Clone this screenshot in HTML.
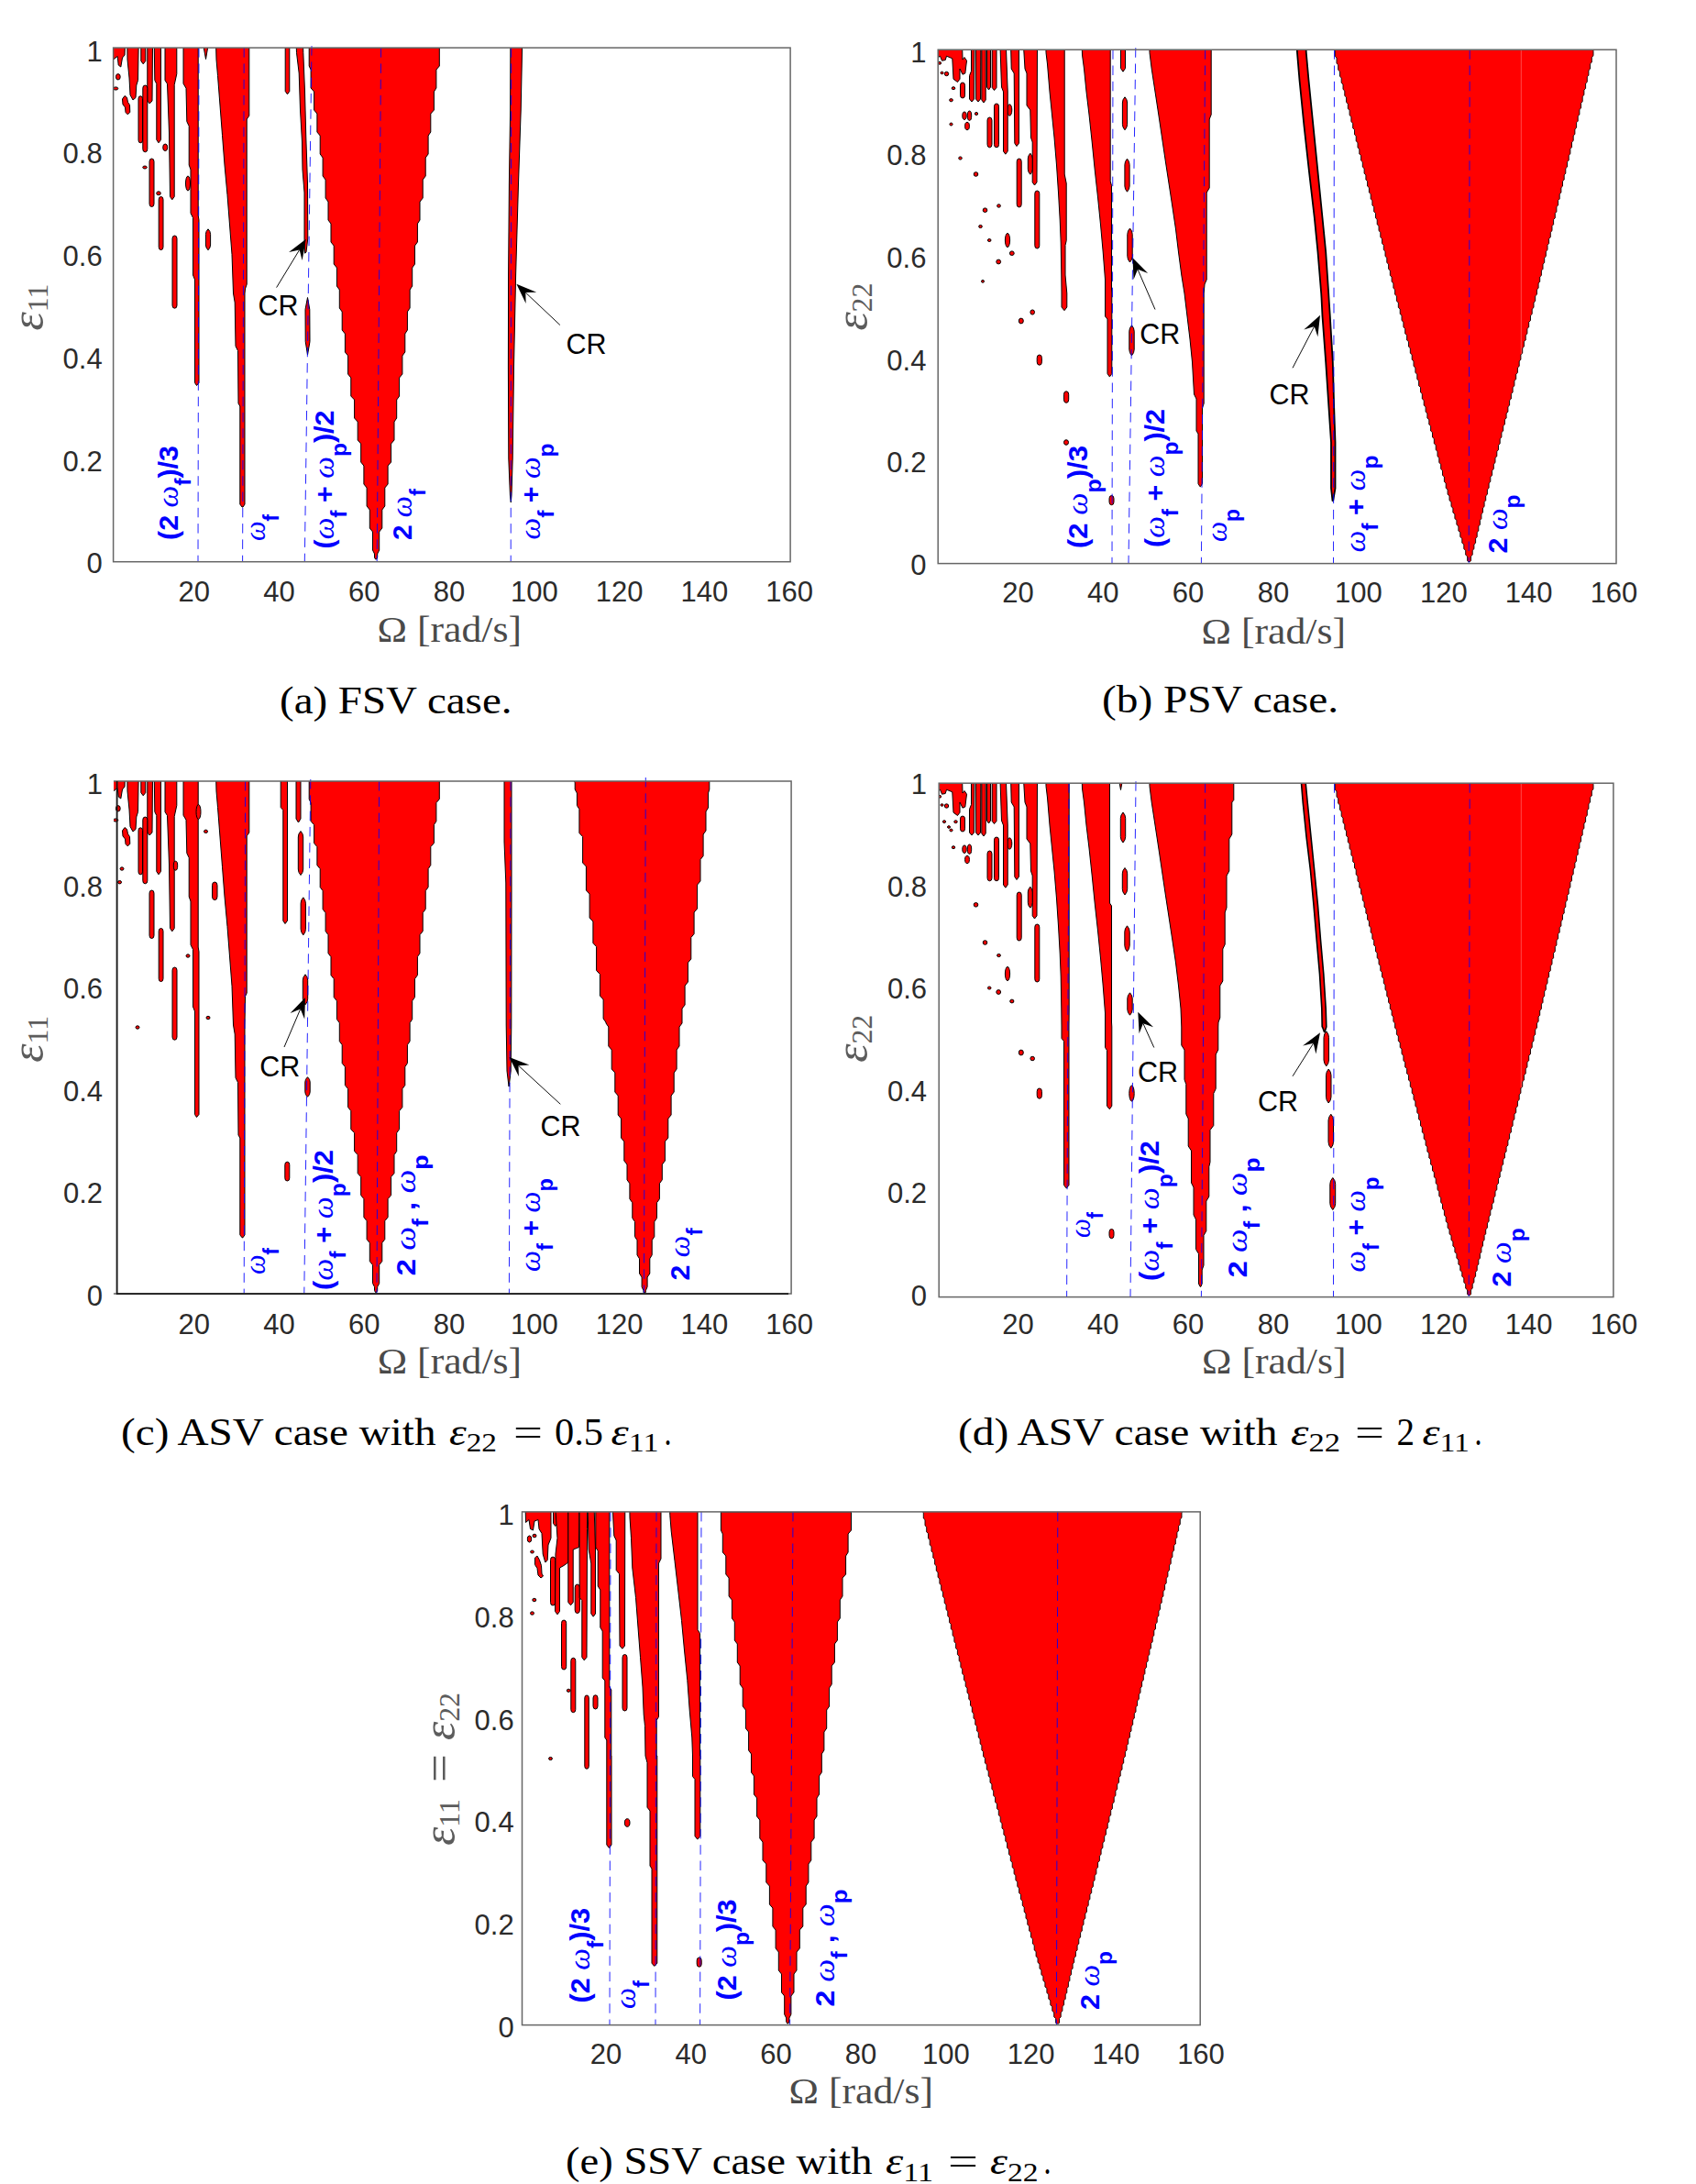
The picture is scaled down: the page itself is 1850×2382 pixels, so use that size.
<!DOCTYPE html>
<html><head><meta charset="utf-8"><title>Stability charts</title>
<style>html,body{margin:0;padding:0;background:#fff}body{width:1850px;height:2382px;position:relative;overflow:hidden}</style>
</head><body>
<svg width="1850" height="2382" viewBox="0 0 1850 2382" style="position:absolute;left:0;top:0">
<clipPath id="clip_a"><rect x="123.6" y="52.1" width="738.5" height="560.6"/></clipPath>
<g clip-path="url(#clip_a)" fill="#ff0000" stroke="#000" stroke-linejoin="round">
<path d="M123 45 L123 65.5 L126 63 L128.2 61.5 L129.2 71 L131.8 73 L133.5 63 L136 60 L136.5 45Z" stroke-width="1.00" stroke="#000"/>
<ellipse cx="128.8" cy="83.8" rx="2.4" ry="3.2" stroke-width="1"/>
<ellipse cx="126.2" cy="96.5" rx="2.6" ry="1.6" stroke-width="1"/>
<path d="M133.5 108 L136 104.5 L138.5 106.5 L139.5 111.5 L141.5 114.5 L141.8 122.5 L139.2 124.8 L137 122.5 L136.5 117 L134 114Z" stroke-width="1.00" stroke="#000"/>
<path d="M138.8 45 L139 65 L141 85 L142 103.5 L145 109 L148 106.5 L148.8 93 L150.5 87.5 L151.2 45Z" stroke-width="1.00" stroke="#000"/>
<path d="M153.8 45 L153.8 66.5 L156.2 69.8 L158.8 66.5 L158.8 45Z" stroke-width="1.00" stroke="#000"/>
<path d="M160.8 45 L160.8 110 L163.2 113 L166 110 L166.5 45Z" stroke-width="1.00" stroke="#000"/>
<rect x="155.8" y="93" width="5" height="72.8" rx="2.5" ry="3.2" stroke-width="1"/>
<rect x="151" y="104.8" width="4.5" height="51" rx="2.2" ry="2.9" stroke-width="1"/>
<path d="M168.2 45 L168.8 87.5 L170.8 91.5 L170.8 152.5 L173 155.8 L175.5 152.5 L175.5 45Z" stroke-width="1.00" stroke="#000"/>
<path d="M180 45 L180 87.5 L182.5 91.5 L184.5 145 L185.5 214.5 L187.8 217.8 L190.2 214.5 L190.2 92.5 L192.8 80.5 L192.8 45Z" stroke-width="1.00" stroke="#000"/>
<ellipse cx="180.2" cy="160.8" rx="2.5" ry="3.8" stroke-width="1"/>
<rect x="163" y="173" width="5" height="52.5" rx="2.5" ry="3.2" stroke-width="1"/>
<ellipse cx="158" cy="182.5" rx="2.3" ry="1.5" stroke-width="1"/>
<ellipse cx="173" cy="210.8" rx="2.3" ry="2" stroke-width="1"/>
<rect x="173.2" y="214.5" width="4.8" height="58" rx="2.4" ry="3.1" stroke-width="1"/>
<rect x="188" y="257" width="5" height="79.2" rx="2.5" ry="3.2" stroke-width="1"/>
<path d="M200 45 L200 91.2 L203 96.2 L203.8 132.5 L206.2 137.5 L206.2 180 L208 185 L208 232.5 L210.5 237.5 L210.5 300 L212.5 305 L212.5 417.5 L214.5 420.5 L217 417.5 L217 240 L216.2 235 L216.2 45Z" stroke-width="1.00" stroke="#000"/>
<ellipse cx="205" cy="200" rx="2.5" ry="8" stroke-width="1"/>
<path d="M221 45 L224.5 64.5 L227.8 45Z" stroke-width="1.00" stroke="#000"/>
<path d="M227 249.8 Q229.6 252.3 229.6 255.5 V267 Q229.6 270.2 227 272.8 Q224.4 270.2 224.4 267 V255.5 Q224.4 252.3 227 249.8Z" stroke-width="1"/>
<path d="M235.5 45 L236 65 L237.5 82.5 L240 115 L242.5 147.5 L245 180 L248 212.5 L250.5 245 L253 277.5 L254.5 320 L256.2 330 L257 377.5 L259.5 382.5 L260 440 L261.8 443 L261.8 550 L264 553 L265 553 L267 550 L267 320 L267.5 315 L269.2 310 L269.2 130 L271.8 126.2 L271.8 45Z" stroke-width="1.00" stroke="#000"/>
<path d="M311.2 45 L311.2 99.5 L313.5 102.8 L315.8 99.5 L315.8 45Z" stroke-width="1.00" stroke="#000"/>
<path d="M323 45 L323.5 57.5 L326.2 80 L327.5 120 L329.5 155 L330 185 L332 210 L332 260 L332.5 276.2 L334 275 L335.8 260 L335.5 200 L333.8 150 L332.5 100 L330.8 57.5 L330.5 45Z" stroke-width="1.00" stroke="#000"/>
<path d="M335.5 324.5 L337.8 337.5 L338 372.5 L335.5 387 L333.2 372.5 L333 337.5Z" stroke-width="1.00" stroke="#000"/>
<path d="M337.2 52 L337.2 72 L339.1 76 L339.1 96 L342.6 100 L342.6 120 L345.9 124 L345.9 144 L349.2 148 L349.2 168 L352.1 172 L352.1 192 L355.1 196 L355.1 216 L358 220 L358 240 L361 244 L361 264 L364.2 268 L364.2 288 L367.4 292 L367.4 312 L370.3 316 L370.3 336 L373.2 340 L373.2 360 L376.4 364 L376.4 384 L379.6 388 L379.6 408 L382.8 412 L382.8 432 L386.6 436 L386.6 456 L390.2 460 L390.2 480 L393.7 484 L393.7 504 L396.9 508 L396.9 528 L400.1 532 L400.1 552 L403.3 556 L403.3 576 L406.5 580 L406.5 600 L408.5 604 L408.5 608 L409.6 610 L410.6 610 L411.7 608 L411.7 604 L413.7 600 L413.7 580 L416.8 576 L416.8 556 L419.8 552 L419.8 532 L423.1 528 L423.1 508 L426.6 504 L426.6 484 L430 480 L430 460 L432.7 456 L432.7 436 L435.6 432 L435.6 412 L438.9 408 L438.9 388 L441.8 384 L441.8 364 L444.4 360 L444.4 340 L447.1 336 L447.1 316 L449.7 312 L449.7 292 L452.5 288 L452.5 268 L455.4 264 L455.4 244 L458 240 L458 220 L461.2 216 L461.2 196 L464.2 192 L464.2 172 L467.1 168 L467.1 148 L469.8 144 L469.8 124 L473.4 120 L473.4 100 L475.9 96 L475.9 76 L479.3 72 L479.3 52Z" stroke-width="1.00" stroke="#000"/>
<path d="M556.9 40 L556.6 120 L555.4 200 L554.6 300 L554.4 400 L554.8 500 L556.4 540 L557.3 548 L557.3 548 L558 540 L559.2 500 L560.5 400 L562.6 300 L565.5 200 L568.2 120 L569.8 40Z" stroke-width="1.00" stroke="#000"/>
</g>
<line x1="217" y1="52.1" x2="216" y2="612.7" stroke="#0000ff" stroke-width="1" stroke-dasharray="10.5 6.8" opacity="0.85"/>
<line x1="266.2" y1="52.1" x2="264.6" y2="612.7" stroke="#0000ff" stroke-width="1" stroke-dasharray="10.5 6.8" opacity="0.85"/>
<line x1="340" y1="50.1" x2="332.3" y2="612.7" stroke="#0000ff" stroke-width="1" stroke-dasharray="10.5 6.8" opacity="0.85"/>
<line x1="415.6" y1="52.1" x2="411.2" y2="612.7" stroke="#0000ff" stroke-width="1" stroke-dasharray="10.5 6.8" opacity="0.85"/>
<line x1="557.6" y1="52.1" x2="557.2" y2="612.7" stroke="#0000ff" stroke-width="1" stroke-dasharray="10.5 6.8" opacity="0.85"/>
<rect x="123.6" y="52.1" width="738.5" height="560.6" fill="none" stroke="#666" stroke-width="1.5"/>
<text x="211.8" y="656.1" font-family="'Liberation Sans', sans-serif" font-size="31" fill="#2b2b2b" text-anchor="middle">20</text><text x="304.6" y="656.1" font-family="'Liberation Sans', sans-serif" font-size="31" fill="#2b2b2b" text-anchor="middle">40</text><text x="397.3" y="656.1" font-family="'Liberation Sans', sans-serif" font-size="31" fill="#2b2b2b" text-anchor="middle">60</text><text x="490.1" y="656.1" font-family="'Liberation Sans', sans-serif" font-size="31" fill="#2b2b2b" text-anchor="middle">80</text><text x="582.9" y="656.1" font-family="'Liberation Sans', sans-serif" font-size="31" fill="#2b2b2b" text-anchor="middle">100</text><text x="675.7" y="656.1" font-family="'Liberation Sans', sans-serif" font-size="31" fill="#2b2b2b" text-anchor="middle">120</text><text x="768.4" y="656.1" font-family="'Liberation Sans', sans-serif" font-size="31" fill="#2b2b2b" text-anchor="middle">140</text><text x="861.2" y="656.1" font-family="'Liberation Sans', sans-serif" font-size="31" fill="#2b2b2b" text-anchor="middle">160</text>
<text x="111.7" y="66.6" font-family="'Liberation Sans', sans-serif" font-size="31" fill="#2b2b2b" text-anchor="end">1</text><text x="111.7" y="178.4" font-family="'Liberation Sans', sans-serif" font-size="31" fill="#2b2b2b" text-anchor="end">0.8</text><text x="111.7" y="290.1" font-family="'Liberation Sans', sans-serif" font-size="31" fill="#2b2b2b" text-anchor="end">0.6</text><text x="111.7" y="401.9" font-family="'Liberation Sans', sans-serif" font-size="31" fill="#2b2b2b" text-anchor="end">0.4</text><text x="111.7" y="513.6" font-family="'Liberation Sans', sans-serif" font-size="31" fill="#2b2b2b" text-anchor="end">0.2</text><text x="111.7" y="625.4" font-family="'Liberation Sans', sans-serif" font-size="31" fill="#2b2b2b" text-anchor="end">0</text>
<text x="411.5" y="700" font-family="'Liberation Serif', serif" font-size="39.5" fill="#4a4a4a" textLength="157.5" lengthAdjust="spacingAndGlyphs">&#937; [rad/s]</text>
<text x="46.9" y="360.6" font-family="'Liberation Serif', serif" font-size="39.5" fill="#5c5c5c" textLength="51" lengthAdjust="spacingAndGlyphs" transform="rotate(-90 46.9 360.6)"><tspan font-style="italic" font-size="50">&#949;</tspan><tspan font-size="31" dy="5.3">11</tspan><tspan dy="-5.3" font-size="1">&#8203;</tspan></text>
<text x="305" y="777.5" font-family="'Liberation Serif', serif" font-size="43" fill="#000" textLength="253.5" lengthAdjust="spacingAndGlyphs">(a) FSV case.</text>
<text x="193.6" y="589" font-family="'Liberation Sans', sans-serif" font-size="29" fill="#0000ff" textLength="103" lengthAdjust="spacingAndGlyphs" transform="rotate(-90 193.6 589)"><tspan font-weight="bold">(2 </tspan><tspan font-family="'Liberation Serif', serif" font-style="italic" font-size="31.9">&#969;</tspan><tspan font-weight="bold" font-size="23.2" dy="14.5">f</tspan><tspan dy="-14.5" font-size="1">&#8203;</tspan><tspan font-weight="bold">)/3</tspan></text>
<text x="289.3" y="590" font-family="'Liberation Sans', sans-serif" font-size="29" fill="#0000ff" textLength="29" lengthAdjust="spacingAndGlyphs" transform="rotate(-90 289.3 590)"><tspan font-family="'Liberation Serif', serif" font-style="italic" font-size="31.9">&#969;</tspan><tspan font-weight="bold" font-size="23.2" dy="14.5">f</tspan><tspan dy="-14.5" font-size="1">&#8203;</tspan></text>
<text x="363.6" y="598.5" font-family="'Liberation Sans', sans-serif" font-size="29" fill="#0000ff" textLength="151" lengthAdjust="spacingAndGlyphs" transform="rotate(-90 363.6 598.5)"><tspan font-weight="bold">(</tspan><tspan font-family="'Liberation Serif', serif" font-style="italic" font-size="31.9">&#969;</tspan><tspan font-weight="bold" font-size="23.2" dy="14.5">f</tspan><tspan dy="-14.5" font-size="1">&#8203;</tspan><tspan font-weight="bold"> + </tspan><tspan font-family="'Liberation Serif', serif" font-style="italic" font-size="31.9">&#969;</tspan><tspan font-weight="bold" font-size="23.2" dy="14.5">p</tspan><tspan dy="-14.5" font-size="1">&#8203;</tspan><tspan font-weight="bold">)/2</tspan></text>
<text x="449.2" y="589" font-family="'Liberation Sans', sans-serif" font-size="29" fill="#0000ff" textLength="56" lengthAdjust="spacingAndGlyphs" transform="rotate(-90 449.2 589)"><tspan font-weight="bold">2 </tspan><tspan font-family="'Liberation Serif', serif" font-style="italic" font-size="31.9">&#969;</tspan><tspan font-weight="bold" font-size="23.2" dy="14.5">f</tspan><tspan dy="-14.5" font-size="1">&#8203;</tspan></text>
<text x="589.1" y="588.5" font-family="'Liberation Sans', sans-serif" font-size="29" fill="#0000ff" textLength="105" lengthAdjust="spacingAndGlyphs" transform="rotate(-90 589.1 588.5)"><tspan font-family="'Liberation Serif', serif" font-style="italic" font-size="31.9">&#969;</tspan><tspan font-weight="bold" font-size="23.2" dy="14.5">f</tspan><tspan dy="-14.5" font-size="1">&#8203;</tspan><tspan font-weight="bold"> + </tspan><tspan font-family="'Liberation Serif', serif" font-style="italic" font-size="31.9">&#969;</tspan><tspan font-weight="bold" font-size="23.2" dy="14.5">p</tspan><tspan dy="-14.5" font-size="1">&#8203;</tspan></text>
<text x="281.5" y="343.6" font-family="'Liberation Sans', sans-serif" font-size="30.5" fill="#000" textLength="44" lengthAdjust="spacingAndGlyphs">CR</text>
<line x1="301.6" y1="313.6" x2="326.7" y2="272.4" stroke="#000" stroke-width="0.95"/><path d="M333.8 260.7 L329.6 283.9 L326.7 272.4 L315.1 275.1Z" fill="#000"/>
<text x="617.5" y="386" font-family="'Liberation Sans', sans-serif" font-size="30.5" fill="#000" textLength="44" lengthAdjust="spacingAndGlyphs">CR</text>
<line x1="610.9" y1="354.5" x2="573.3" y2="319.1" stroke="#000" stroke-width="0.95"/><path d="M563.4 309.8 L585.2 318.7 L573.3 319.1 L573.6 331.1Z" fill="#000"/>
<clipPath id="clip_b"><rect x="1023.2" y="54.2" width="739.8" height="560.4"/></clipPath>
<g clip-path="url(#clip_b)" fill="#ff0000" stroke="#000" stroke-linejoin="round">
<path d="M1023 45 L1023.5 62.5 L1025.5 61.2 L1027.5 66.2 L1031.2 65.5 L1032.5 61.2 L1038.8 63.8 L1040 86.2 L1044.5 89.5 L1047 86.2 L1047 75 L1050 81.2 L1052.8 80 L1054.5 66.2 L1052 62.5 L1050 65 L1049.5 45Z" stroke-width="1.00" stroke="#000"/>
<ellipse cx="1025" cy="68.8" rx="1.6" ry="1.4" stroke-width="1"/>
<ellipse cx="1027.5" cy="79.5" rx="1.5" ry="1.3" stroke-width="1"/>
<ellipse cx="1032.5" cy="80.5" rx="2.2" ry="2.2" stroke-width="1"/>
<ellipse cx="1040" cy="96.2" rx="1.8" ry="1.5" stroke-width="1"/>
<ellipse cx="1037.5" cy="109.2" rx="1.8" ry="1.6" stroke-width="1"/>
<ellipse cx="1037.5" cy="135.5" rx="1.6" ry="1.5" stroke-width="1"/>
<ellipse cx="1047.5" cy="172.5" rx="1.8" ry="1.6" stroke-width="1"/>
<ellipse cx="1064.5" cy="190" rx="2.3" ry="2.3" stroke-width="1"/>
<ellipse cx="1074.5" cy="229.2" rx="2.3" ry="2.3" stroke-width="1"/>
<ellipse cx="1089.5" cy="224.5" rx="1.9" ry="1.7" stroke-width="1"/>
<ellipse cx="1069.5" cy="247" rx="1.8" ry="1.6" stroke-width="1"/>
<ellipse cx="1079.2" cy="262" rx="1.8" ry="1.5" stroke-width="1"/>
<ellipse cx="1103.8" cy="276.2" rx="2.4" ry="2.3" stroke-width="1"/>
<ellipse cx="1089.2" cy="285.5" rx="2.4" ry="2.4" stroke-width="1"/>
<ellipse cx="1072" cy="306.8" rx="1.5" ry="1.4" stroke-width="1"/>
<ellipse cx="1065" cy="124" rx="1.7" ry="1.5" stroke-width="1"/>
<ellipse cx="1052" cy="126.2" rx="2.2" ry="4.2" stroke-width="1"/>
<ellipse cx="1057.5" cy="126.2" rx="2.2" ry="5.2" stroke-width="1"/>
<ellipse cx="1055" cy="137.5" rx="2.4" ry="4.2" stroke-width="1"/>
<rect x="1047.5" y="90" width="5" height="17" rx="2.5" ry="3.2" stroke-width="1"/>
<path d="M1059.5 45 L1059.5 77.5 L1057.5 82.5 L1057.5 108 L1060 111 L1062.5 108 L1063 45Z" stroke-width="1.00" stroke="#000"/>
<path d="M1064.5 45 L1064.5 108 L1067 111 L1069.5 108 L1070 45Z" stroke-width="1.00" stroke="#000"/>
<path d="M1070.8 45 L1070.8 109 L1073 112 L1075.2 109 L1075.2 45Z" stroke-width="1.00" stroke="#000"/>
<path d="M1076.5 45 L1076.5 95 L1078.5 98 L1080.5 95 L1080.5 45Z" stroke-width="1.00" stroke="#000"/>
<path d="M1082.2 45 L1082.2 95.5 L1084.5 98.5 L1087 95.5 L1087 45Z" stroke-width="1.00" stroke="#000"/>
<rect x="1084.5" y="113" width="5" height="47.8" rx="2.5" ry="3.2" stroke-width="1"/>
<rect x="1077" y="128" width="5" height="32.8" rx="2.5" ry="3.2" stroke-width="1"/>
<ellipse cx="1101.2" cy="120" rx="2.6" ry="6.2" stroke-width="1"/>
<path d="M1090.8 45 L1092.5 95 L1094.5 100 L1094.5 165 L1096.8 168.2 L1099.2 165 L1099.2 100 L1097.2 45Z" stroke-width="1.00" stroke="#000"/>
<path d="M1102.5 45 L1103.2 75 L1106.2 80 L1106.8 156.2 L1109 159.5 L1111.5 156.2 L1111.5 45Z" stroke-width="1.00" stroke="#000"/>
<path d="M1116.2 45 L1118 75 L1120 80 L1120 115 L1123.8 120 L1124.5 150 L1126.2 155 L1126.2 198.8 L1128.5 202 L1131 198.8 L1131.5 45Z" stroke-width="1.00" stroke="#000"/>
<path d="M1123.8 167.2 Q1126.2 169.8 1126.2 173 V184.5 Q1126.2 187.7 1123.8 190.2 Q1121.3 187.7 1121.3 184.5 V173 Q1121.3 169.8 1123.8 167.2Z" stroke-width="1"/>
<rect x="1109.2" y="173" width="5" height="53" rx="2.5" ry="3.2" stroke-width="1"/>
<rect x="1128.8" y="208" width="5" height="63" rx="2.5" ry="3.2" stroke-width="1"/>
<ellipse cx="1099" cy="262" rx="2.6" ry="7.6" stroke-width="1"/>
<ellipse cx="1126.2" cy="340.5" rx="2.3" ry="2.6" stroke-width="1"/>
<ellipse cx="1113.8" cy="350" rx="2.5" ry="2.9" stroke-width="1"/>
<rect x="1131.2" y="387" width="5.2" height="11.2" rx="2.6" ry="3.4" stroke-width="1"/>
<rect x="1160.5" y="426.8" width="5.2" height="12.5" rx="2.6" ry="3.4" stroke-width="1"/>
<ellipse cx="1163" cy="482.5" rx="2.5" ry="2.8" stroke-width="1"/>
<rect x="1210" y="540.5" width="5" height="10.2" rx="2.5" ry="3.2" stroke-width="1"/>
<path d="M1140.8 45 L1141 57.5 L1142.5 70 L1145 100 L1147.5 125 L1150 150 L1152.5 180 L1154.5 210 L1156.2 240 L1157.2 265 L1157.8 300 L1158 320 L1158 335 L1160.8 338.5 L1161.2 338.5 L1163.8 335 L1163.8 320 L1162 300 L1162 267.5 L1163.2 262.5 L1163.2 200 L1161.2 190 L1161.2 45Z" stroke-width="1.00" stroke="#000"/>
<path d="M1180 45 L1180.5 60 L1182.5 75 L1185 100 L1188 125 L1191.2 155 L1194.2 185 L1197.5 215 L1200.5 245 L1203.2 275 L1205.5 305 L1205.5 320 L1205.5 345 L1208 348 L1208 407.5 L1210.2 410.8 L1210.5 410.8 L1212.8 407.5 L1212.8 320 L1212.5 315 L1212.5 202.5 L1211.2 197.5 L1211.2 45Z" stroke-width="1.00" stroke="#000"/>
<path d="M1222.5 45 L1222.5 74.5 L1225 78.2 L1227.5 74.5 L1227.5 45Z" stroke-width="1.00" stroke="#000"/>
<path d="M1227 105.8 Q1229.6 108.6 1229.6 112 V135.5 Q1229.6 138.9 1227 141.8 Q1224.4 138.9 1224.4 135.5 V112 Q1224.4 108.6 1227 105.8Z" stroke-width="1"/>
<path d="M1229.5 173.2 Q1232.1 176.1 1232.1 179.5 V203 Q1232.1 206.4 1229.5 209.2 Q1226.9 206.4 1226.9 203 V179.5 Q1226.9 176.1 1229.5 173.2Z" stroke-width="1"/>
<path d="M1232.5 249 Q1235.2 251.9 1235.2 255.5 V279.5 Q1235.2 283.1 1232.5 286 Q1229.8 283.1 1229.8 279.5 V255.5 Q1229.8 251.9 1232.5 249Z" stroke-width="1"/>
<path d="M1234.5 354.8 Q1237.2 357.7 1237.2 361.2 V381.3 Q1237.2 384.8 1234.5 387.8 Q1231.8 384.8 1231.8 381.3 V361.2 Q1231.8 357.7 1234.5 354.8Z" stroke-width="1"/>
<path d="M1253.8 45 L1254 57.5 L1256.2 75 L1260 100 L1263.8 125 L1267.5 150 L1271.2 175 L1275 200 L1278.8 225 L1282.5 250 L1285.5 275 L1288.8 300 L1292 320 L1295 345 L1298 370 L1300.5 395 L1302.5 430 L1305 435 L1305 470 L1307 473 L1307 527.5 L1309 530.8 L1309.5 530.8 L1311.5 527.5 L1311.5 445 L1313.2 440 L1313.2 320 L1314 310 L1316.2 305 L1316.2 210 L1319.2 205 L1319.2 130 L1321.2 125 L1321.2 45Z" stroke-width="1.00" stroke="#000"/>
<path d="M1414.5 45 L1415 57.5 L1417.5 87.5 L1422.5 137.5 L1428 187.5 L1433.8 237.5 L1437.5 275 L1441.2 320 L1441.5 325 L1442.5 345 L1446.2 395 L1449.5 445 L1452 482.5 L1452 532.5 L1453.5 546.2 L1454.2 546.2 L1456.5 532.5 L1456.5 482.5 L1455.2 445 L1453.8 395 L1450.8 345 L1449.5 325 L1449.2 320 L1446.2 275 L1442.5 237.5 L1437.5 187.5 L1432.5 137.5 L1427.5 87.5 L1424.8 57.5 L1424.2 45Z" stroke-width="1.80" stroke="#000"/>
<path d="M1455 50.8 L1455 53.7 L1456.3 55.3 L1456.3 61.5 L1458 63 L1458 69.2 L1459.7 70.8 L1459.7 76.3 L1461.5 77.9 L1461.5 83.3 L1463.2 84.9 L1463.2 90.4 L1465 92 L1465 97.4 L1466.8 99 L1466.8 104.5 L1468.6 106.1 L1468.6 111.6 L1470.3 113.2 L1470.3 118.6 L1472.1 120.2 L1472.1 125.7 L1473.9 127.3 L1473.9 132.7 L1475.7 134.3 L1475.7 139.8 L1477.5 141.4 L1477.5 146.8 L1479.2 148.4 L1479.2 153.9 L1481 155.5 L1481 161 L1482.8 162.6 L1482.8 168 L1484.6 169.6 L1484.6 175.1 L1486.3 176.7 L1486.3 182.1 L1488.1 183.7 L1488.1 189.2 L1489.9 190.8 L1489.9 196.1 L1491.6 197.7 L1491.6 203.1 L1493.4 204.7 L1493.4 210 L1495.2 211.6 L1495.2 217 L1496.9 218.6 L1496.9 223.9 L1498.7 225.5 L1498.7 230.9 L1500.5 232.5 L1500.5 237.8 L1502.2 239.4 L1502.2 244.8 L1504 246.4 L1504 251.7 L1505.8 253.3 L1505.8 258.7 L1507.5 260.3 L1507.5 265.6 L1509.3 267.2 L1509.3 272.6 L1511 274.2 L1511 279.5 L1512.8 281.1 L1512.8 286.5 L1514.6 288.1 L1514.6 293.4 L1516.3 295 L1516.3 300.4 L1518.1 302 L1518.1 307.3 L1519.9 308.9 L1519.9 314.3 L1521.6 315.9 L1521.6 321.2 L1523.4 322.8 L1523.4 328.3 L1525.3 329.9 L1525.3 335.4 L1527.2 337 L1527.2 342.5 L1529 344.1 L1529 349.6 L1530.9 351.2 L1530.9 356.8 L1532.7 358.4 L1532.7 363.9 L1534.6 365.5 L1534.6 371 L1536.5 372.6 L1536.5 378.1 L1538.3 379.7 L1538.3 385.2 L1540.2 386.8 L1540.2 392.3 L1542 393.9 L1542 399.4 L1543.9 401 L1543.9 406.5 L1545.8 408.1 L1545.8 413.6 L1547.6 415.2 L1547.6 420.8 L1549.5 422.4 L1549.5 427.9 L1551.3 429.5 L1551.3 435 L1553.2 436.6 L1553.2 442.1 L1555.1 443.7 L1555.1 449.2 L1556.9 450.8 L1556.9 456.1 L1558.8 457.7 L1558.8 463 L1560.6 464.6 L1560.6 470 L1562.5 471.6 L1562.5 476.9 L1564.3 478.5 L1564.3 483.8 L1566.2 485.4 L1566.2 490.7 L1568 492.3 L1568 497.7 L1569.8 499.3 L1569.8 504.6 L1571.7 506.2 L1571.7 511.5 L1573.5 513.1 L1573.5 518.4 L1575.4 520 L1575.4 525.4 L1577.2 527 L1577.2 532.3 L1579.1 533.9 L1579.1 539.2 L1581 540.8 L1581 545.8 L1583 547.4 L1583 552.5 L1584.9 554 L1584.9 559.1 L1586.9 560.7 L1586.9 565.7 L1588.9 567.3 L1588.9 572.3 L1590.9 573.9 L1590.9 579 L1592.8 580.5 L1592.8 585.6 L1594.8 587.2 L1594.8 592.2 L1596.8 593.8 L1596.8 598.7 L1598.7 600.3 L1598.7 605.2 L1600.6 606.8 L1600.6 611.7 L1601.6 612.5 L1603.6 612.5 L1604.5 611.7 L1604.5 606.8 L1606.2 605.2 L1606.2 600.3 L1607.9 598.7 L1607.9 593.8 L1609.6 592.2 L1609.6 587.2 L1611.2 585.6 L1611.2 580.5 L1612.8 579 L1612.8 573.9 L1614.4 572.3 L1614.4 567.3 L1615.9 565.7 L1615.9 560.7 L1617.5 559.1 L1617.5 554 L1619.1 552.5 L1619.1 547.4 L1620.7 545.8 L1620.7 540.8 L1622.4 539.2 L1622.4 533.9 L1624.1 532.3 L1624.1 527 L1625.8 525.4 L1625.8 520 L1627.6 518.4 L1627.6 513.1 L1629.3 511.5 L1629.3 506.2 L1631 504.6 L1631 499.3 L1632.8 497.7 L1632.8 492.3 L1634.5 490.7 L1634.5 485.4 L1636.2 483.8 L1636.2 478.5 L1637.9 476.9 L1637.9 471.6 L1639.7 470 L1639.7 464.6 L1641.4 463 L1641.4 457.7 L1643.1 456.1 L1643.1 450.8 L1644.9 449.2 L1644.9 443.7 L1646.6 442.1 L1646.6 436.6 L1648.4 435 L1648.4 429.5 L1650.1 427.9 L1650.1 422.4 L1651.9 420.8 L1651.9 415.2 L1653.7 413.6 L1653.7 408.1 L1655.4 406.5 L1655.4 401 L1657.2 399.4 L1657.2 393.9 L1658.9 392.3 L1658.9 386.8 L1660.7 385.2 L1660.7 379.7 L1662.4 378.1 L1662.4 372.6 L1664.2 371 L1664.2 365.5 L1665.9 363.9 L1665.9 358.4 L1667.7 356.8 L1667.7 351.2 L1669.5 349.6 L1669.5 344.1 L1671.2 342.5 L1671.2 337 L1673 335.4 L1673 329.9 L1674.7 328.3 L1674.7 322.8 L1676.4 321.2 L1676.4 315.9 L1678.1 314.3 L1678.1 308.9 L1679.7 307.3 L1679.7 302 L1681.4 300.4 L1681.4 295 L1683 293.4 L1683 288.1 L1684.7 286.5 L1684.7 281.1 L1686.3 279.5 L1686.3 274.2 L1688 272.6 L1688 267.2 L1689.6 265.6 L1689.6 260.3 L1691.3 258.7 L1691.3 253.3 L1693 251.7 L1693 246.4 L1694.6 244.8 L1694.6 239.4 L1696.3 237.8 L1696.3 232.5 L1697.9 230.9 L1697.9 225.5 L1699.6 223.9 L1699.6 218.6 L1701.2 217 L1701.2 211.6 L1702.9 210 L1702.9 204.7 L1704.5 203.1 L1704.5 197.7 L1706.2 196.1 L1706.2 190.8 L1707.8 189.2 L1707.8 183.7 L1709.5 182.1 L1709.5 176.5 L1711.2 174.9 L1711.2 169.4 L1712.9 167.8 L1712.9 162.3 L1714.5 160.7 L1714.5 155.1 L1716.2 153.5 L1716.2 148 L1717.9 146.4 L1717.9 140.9 L1719.6 139.3 L1719.6 133.7 L1721.2 132.1 L1721.2 126.6 L1722.9 125 L1722.9 119.5 L1724.6 117.9 L1724.6 112.4 L1726.2 110.8 L1726.2 105.2 L1727.9 103.6 L1727.9 98.1 L1729.6 96.5 L1729.6 91 L1731.3 89.4 L1731.3 83.8 L1732.9 82.2 L1732.9 76.7 L1734.6 75.1 L1734.6 69.6 L1736.3 68 L1736.3 62.4 L1738 60.8 L1738 55.3 L1739 53.7 L1739 50.8Z" stroke-width="0.90" stroke="#000"/>
<line x1="1659.3" y1="50" x2="1659.3" y2="386" stroke="#ff6a6a" stroke-width="0.7"/>
</g>
<line x1="1214" y1="54.2" x2="1213" y2="614.6" stroke="#0000ff" stroke-width="1" stroke-dasharray="10.5 6.8" opacity="0.85"/>
<line x1="1238.8" y1="52.2" x2="1231" y2="614.6" stroke="#0000ff" stroke-width="1" stroke-dasharray="10.5 6.8" opacity="0.85"/>
<line x1="1314.6" y1="54.2" x2="1310.4" y2="614.6" stroke="#0000ff" stroke-width="1" stroke-dasharray="10.5 6.8" opacity="0.85"/>
<line x1="1455.5" y1="54.2" x2="1454.5" y2="614.6" stroke="#0000ff" stroke-width="1" stroke-dasharray="10.5 6.8" opacity="0.85"/>
<line x1="1603.2" y1="54.2" x2="1602.2" y2="614.6" stroke="#0000ff" stroke-width="1" stroke-dasharray="10.5 6.8" opacity="0.85"/>
<rect x="1023.2" y="54.2" width="739.8" height="560.4" fill="none" stroke="#666" stroke-width="1.5"/>
<text x="1110.4" y="656.7" font-family="'Liberation Sans', sans-serif" font-size="31" fill="#2b2b2b" text-anchor="middle">20</text><text x="1203.3" y="656.7" font-family="'Liberation Sans', sans-serif" font-size="31" fill="#2b2b2b" text-anchor="middle">40</text><text x="1296.1" y="656.7" font-family="'Liberation Sans', sans-serif" font-size="31" fill="#2b2b2b" text-anchor="middle">60</text><text x="1389" y="656.7" font-family="'Liberation Sans', sans-serif" font-size="31" fill="#2b2b2b" text-anchor="middle">80</text><text x="1481.9" y="656.7" font-family="'Liberation Sans', sans-serif" font-size="31" fill="#2b2b2b" text-anchor="middle">100</text><text x="1574.8" y="656.7" font-family="'Liberation Sans', sans-serif" font-size="31" fill="#2b2b2b" text-anchor="middle">120</text><text x="1667.6" y="656.7" font-family="'Liberation Sans', sans-serif" font-size="31" fill="#2b2b2b" text-anchor="middle">140</text><text x="1760.5" y="656.7" font-family="'Liberation Sans', sans-serif" font-size="31" fill="#2b2b2b" text-anchor="middle">160</text>
<text x="1010.4" y="68.2" font-family="'Liberation Sans', sans-serif" font-size="31" fill="#2b2b2b" text-anchor="end">1</text><text x="1010.4" y="180" font-family="'Liberation Sans', sans-serif" font-size="31" fill="#2b2b2b" text-anchor="end">0.8</text><text x="1010.4" y="291.8" font-family="'Liberation Sans', sans-serif" font-size="31" fill="#2b2b2b" text-anchor="end">0.6</text><text x="1010.4" y="403.6" font-family="'Liberation Sans', sans-serif" font-size="31" fill="#2b2b2b" text-anchor="end">0.4</text><text x="1010.4" y="515.4" font-family="'Liberation Sans', sans-serif" font-size="31" fill="#2b2b2b" text-anchor="end">0.2</text><text x="1010.4" y="627.2" font-family="'Liberation Sans', sans-serif" font-size="31" fill="#2b2b2b" text-anchor="end">0</text>
<text x="1310.5" y="702" font-family="'Liberation Serif', serif" font-size="39.5" fill="#4a4a4a" textLength="157.5" lengthAdjust="spacingAndGlyphs">&#937; [rad/s]</text>
<text x="945.6" y="360.6" font-family="'Liberation Serif', serif" font-size="39.5" fill="#5c5c5c" textLength="52" lengthAdjust="spacingAndGlyphs" transform="rotate(-90 945.6 360.6)"><tspan font-style="italic" font-size="50">&#949;</tspan><tspan font-size="31" dy="5.3">22</tspan><tspan dy="-5.3" font-size="1">&#8203;</tspan></text>
<text x="1202" y="777.3" font-family="'Liberation Serif', serif" font-size="43" fill="#000" textLength="258" lengthAdjust="spacingAndGlyphs">(b) PSV case.</text>
<text x="1186" y="598" font-family="'Liberation Sans', sans-serif" font-size="29" fill="#0000ff" textLength="112" lengthAdjust="spacingAndGlyphs" transform="rotate(-90 1186 598)"><tspan font-weight="bold">(2 </tspan><tspan font-family="'Liberation Serif', serif" font-style="italic" font-size="31.9">&#969;</tspan><tspan font-weight="bold" font-size="23.2" dy="14.5">p</tspan><tspan dy="-14.5" font-size="1">&#8203;</tspan><tspan font-weight="bold">)/3</tspan></text>
<text x="1270" y="597" font-family="'Liberation Sans', sans-serif" font-size="29" fill="#0000ff" textLength="151" lengthAdjust="spacingAndGlyphs" transform="rotate(-90 1270 597)"><tspan font-weight="bold">(</tspan><tspan font-family="'Liberation Serif', serif" font-style="italic" font-size="31.9">&#969;</tspan><tspan font-weight="bold" font-size="23.2" dy="14.5">f</tspan><tspan dy="-14.5" font-size="1">&#8203;</tspan><tspan font-weight="bold"> + </tspan><tspan font-family="'Liberation Serif', serif" font-style="italic" font-size="31.9">&#969;</tspan><tspan font-weight="bold" font-size="23.2" dy="14.5">p</tspan><tspan dy="-14.5" font-size="1">&#8203;</tspan><tspan font-weight="bold">)/2</tspan></text>
<text x="1337.5" y="591" font-family="'Liberation Sans', sans-serif" font-size="29" fill="#0000ff" textLength="36" lengthAdjust="spacingAndGlyphs" transform="rotate(-90 1337.5 591)"><tspan font-family="'Liberation Serif', serif" font-style="italic" font-size="31.9">&#969;</tspan><tspan font-weight="bold" font-size="23.2" dy="14.5">p</tspan><tspan dy="-14.5" font-size="1">&#8203;</tspan></text>
<text x="1488.9" y="602.5" font-family="'Liberation Sans', sans-serif" font-size="29" fill="#0000ff" textLength="106" lengthAdjust="spacingAndGlyphs" transform="rotate(-90 1488.9 602.5)"><tspan font-family="'Liberation Serif', serif" font-style="italic" font-size="31.9">&#969;</tspan><tspan font-weight="bold" font-size="23.2" dy="14.5">f</tspan><tspan dy="-14.5" font-size="1">&#8203;</tspan><tspan font-weight="bold"> + </tspan><tspan font-family="'Liberation Serif', serif" font-style="italic" font-size="31.9">&#969;</tspan><tspan font-weight="bold" font-size="23.2" dy="14.5">p</tspan><tspan dy="-14.5" font-size="1">&#8203;</tspan></text>
<text x="1643.5" y="603.5" font-family="'Liberation Sans', sans-serif" font-size="29" fill="#0000ff" textLength="64" lengthAdjust="spacingAndGlyphs" transform="rotate(-90 1643.5 603.5)"><tspan font-weight="bold">2 </tspan><tspan font-family="'Liberation Serif', serif" font-style="italic" font-size="31.9">&#969;</tspan><tspan font-weight="bold" font-size="23.2" dy="14.5">p</tspan><tspan dy="-14.5" font-size="1">&#8203;</tspan></text>
<text x="1243.3" y="374.5" font-family="'Liberation Sans', sans-serif" font-size="30.5" fill="#000" textLength="44" lengthAdjust="spacingAndGlyphs">CR</text>
<line x1="1260" y1="337.5" x2="1241" y2="293.8" stroke="#000" stroke-width="0.95"/><path d="M1235.5 281.3 L1252.1 298.1 L1241 293.8 L1236.5 304.9Z" fill="#000"/>
<text x="1384.5" y="441.3" font-family="'Liberation Sans', sans-serif" font-size="30.5" fill="#000" textLength="44" lengthAdjust="spacingAndGlyphs">CR</text>
<line x1="1410" y1="401.3" x2="1433.7" y2="355.9" stroke="#000" stroke-width="0.95"/><path d="M1440 343.8 L1437.4 367.2 L1433.7 355.9 L1422.3 359.4Z" fill="#000"/>
<clipPath id="clip_c"><rect x="123.9" y="852" width="739.2" height="558.9"/></clipPath>
<g clip-path="url(#clip_c)" fill="#ff0000" stroke="#000" stroke-linejoin="round">
<path d="M123 843 L123 863.5 L126 861 L128.2 859.5 L129.2 869 L131.8 871 L133.5 861 L136 858 L136.5 843Z" stroke-width="1.00" stroke="#000"/>
<ellipse cx="128.8" cy="881.8" rx="2.4" ry="3.2" stroke-width="1"/>
<ellipse cx="126.2" cy="894.5" rx="2.6" ry="1.6" stroke-width="1"/>
<path d="M133.5 906 L136 902.5 L138.5 904.5 L139.5 909.5 L141.5 912.5 L141.8 920.5 L139.2 922.8 L137 920.5 L136.5 915 L134 912Z" stroke-width="1.00" stroke="#000"/>
<path d="M138.8 843 L139 863 L141 883 L142 901.5 L145 907 L148 904.5 L148.8 891 L150.5 885.5 L151.2 843Z" stroke-width="1.00" stroke="#000"/>
<path d="M153.8 843 L153.8 864.5 L156.2 867.8 L158.8 864.5 L158.8 843Z" stroke-width="1.00" stroke="#000"/>
<path d="M160.8 843 L160.8 908 L163.2 911 L166 908 L166.5 843Z" stroke-width="1.00" stroke="#000"/>
<rect x="155.8" y="891" width="5" height="72.8" rx="2.5" ry="3.2" stroke-width="1"/>
<rect x="151" y="902.8" width="4.5" height="51" rx="2.2" ry="2.9" stroke-width="1"/>
<path d="M168.2 843 L168.8 885.5 L170.8 889.5 L170.8 950.5 L173 953.8 L175.5 950.5 L175.5 843Z" stroke-width="1.00" stroke="#000"/>
<path d="M180 843 L180 885.5 L182.5 889.5 L184.5 943 L185.5 1012.5 L187.8 1015.8 L190.2 1012.5 L190.2 890.5 L192.8 878.5 L192.8 843Z" stroke-width="1.00" stroke="#000"/>
<rect x="163" y="971" width="5" height="52.5" rx="2.5" ry="3.2" stroke-width="1"/>
<rect x="173.2" y="1012.5" width="4.8" height="58" rx="2.4" ry="3.1" stroke-width="1"/>
<rect x="188" y="1055" width="5" height="79.2" rx="2.5" ry="3.2" stroke-width="1"/>
<path d="M200 843 L200 889.2 L203 894.2 L203.8 930.5 L206.2 935.5 L206.2 978 L208 983 L208 1030.5 L210.5 1035.5 L210.5 1098 L212.5 1103 L212.5 1215.5 L214.5 1218.5 L217 1215.5 L217 1038 L216.2 1033 L216.2 843Z" stroke-width="1.00" stroke="#000"/>
<ellipse cx="224.5" cy="906.8" rx="2" ry="1.7" stroke-width="1"/>
<ellipse cx="133" cy="947.5" rx="2" ry="1.7" stroke-width="1"/>
<ellipse cx="130.5" cy="962.2" rx="2" ry="1.7" stroke-width="1"/>
<ellipse cx="205" cy="1042.5" rx="2" ry="1.7" stroke-width="1"/>
<ellipse cx="227" cy="1110" rx="2" ry="1.7" stroke-width="1"/>
<ellipse cx="150" cy="1120.5" rx="2" ry="1.7" stroke-width="1"/>
<rect x="231.5" y="962" width="5.5" height="19.5" rx="2.8" ry="3.6" stroke-width="1"/>
<ellipse cx="216.5" cy="885.5" rx="2.5" ry="8" stroke-width="1"/>
<ellipse cx="191.5" cy="944.2" rx="2.2" ry="5" stroke-width="1"/>
<path d="M235.5 843 L236 863 L237.5 880.5 L240 913 L242.5 945.5 L245 978 L248 1010.5 L250.5 1043 L253 1075.5 L254.5 1118 L256.2 1128 L257 1175.5 L259.5 1180.5 L260 1238 L261.8 1241 L261.8 1346.8 L264 1349.8 L265 1349.8 L267 1346.8 L267 1118 L267.5 1086.8 L269.2 1083 L269.2 911.8 L271.8 908 L271.8 843Z" stroke-width="1.00" stroke="#000"/>
<path d="M306.2 843 L306.2 880.5 L308.8 883.5 L308.8 1004.2 L311 1007.5 L313.5 1004.2 L313.5 843Z" stroke-width="1.00" stroke="#000"/>
<path d="M323 843 L323 893 L325.5 897 L328 893 L328 843Z" stroke-width="1.00" stroke="#000"/>
<path d="M328 906.5 Q330.7 909.4 330.7 913 V948 Q330.7 951.6 328 954.5 Q325.3 951.6 325.3 948 V913 Q325.3 909.4 328 906.5Z" stroke-width="1"/>
<path d="M330.8 978.8 Q333.4 981.7 333.4 985.2 V1013.3 Q333.4 1016.8 330.8 1019.8 Q328.1 1016.8 328.1 1013.3 V985.2 Q328.1 981.7 330.8 978.8Z" stroke-width="1"/>
<path d="M333 1062.8 Q335.7 1065.7 335.7 1069.2 V1089.3 Q335.7 1092.8 333 1095.8 Q330.3 1092.8 330.3 1089.3 V1069.2 Q330.3 1065.7 333 1062.8Z" stroke-width="1"/>
<path d="M335.5 1174.7 Q338.2 1177.1 338.2 1180.1 V1190.9 Q338.2 1193.9 335.5 1196.3 Q332.8 1193.9 332.8 1190.9 V1180.1 Q332.8 1177.1 335.5 1174.7Z" stroke-width="1"/>
<rect x="310.8" y="1267.2" width="5" height="20.8" rx="2.5" ry="3.2" stroke-width="1"/>
<path d="M337.2 851.6 L337.2 871.6 L339.1 875.6 L339.1 895.6 L342.6 899.6 L342.6 919.6 L345.9 923.6 L345.9 943.6 L349.2 947.6 L349.2 967.6 L352.1 971.6 L352.1 991.6 L355.1 995.6 L355.1 1015.6 L358 1019.6 L358 1039.6 L361 1043.6 L361 1063.6 L364.2 1067.6 L364.2 1087.6 L367.4 1091.6 L367.4 1111.6 L370.3 1115.6 L370.3 1135.6 L373.2 1139.6 L373.2 1159.6 L376.4 1163.6 L376.4 1183.6 L379.6 1187.6 L379.6 1207.6 L382.8 1211.6 L382.8 1231.6 L386.6 1235.6 L386.6 1255.6 L390.2 1259.6 L390.2 1279.6 L393.7 1283.6 L393.7 1303.6 L396.9 1307.6 L396.9 1327.6 L400.1 1331.6 L400.1 1351.6 L403.3 1355.6 L403.3 1375.6 L406.5 1379.6 L406.5 1399.6 L408.5 1403.6 L408.5 1407.6 L409.6 1409.6 L410.6 1409.6 L411.7 1407.6 L411.7 1403.6 L413.7 1399.6 L413.7 1379.6 L416.8 1375.6 L416.8 1355.6 L419.8 1351.6 L419.8 1331.6 L423.1 1327.6 L423.1 1307.6 L426.6 1303.6 L426.6 1283.6 L430 1279.6 L430 1259.6 L432.7 1255.6 L432.7 1235.6 L435.6 1231.6 L435.6 1211.6 L438.9 1207.6 L438.9 1187.6 L441.8 1183.6 L441.8 1163.6 L444.4 1159.6 L444.4 1139.6 L447.1 1135.6 L447.1 1115.6 L449.7 1111.6 L449.7 1091.6 L452.5 1087.6 L452.5 1067.6 L455.4 1063.6 L455.4 1043.6 L458 1039.6 L458 1019.6 L461.2 1015.6 L461.2 995.6 L464.2 991.6 L464.2 971.6 L467.1 967.6 L467.1 947.6 L469.8 943.6 L469.8 923.6 L473.4 919.6 L473.4 899.6 L475.9 895.6 L475.9 875.6 L479.3 871.6 L479.3 851.6Z" stroke-width="1.00" stroke="#000"/>
<path d="M550 843 L550 918 L551.8 963 L552.2 1118 L552.2 1118 L553 1168 L555 1185 L555.2 1185 L557.2 1168 L557.8 1118 L557.8 1118 L558 973 L558 843Z" stroke-width="1.00" stroke="#000"/>
<path d="M625.8 845 L625.8 849.8 L627.2 853.8 L627.2 861 L629.4 865 L629.4 878.5 L631.9 882.5 L631.9 908.5 L635.6 912.5 L635.6 941 L639.4 945 L639.4 971 L643.1 975 L643.1 1001 L646.9 1005 L646.9 1028.5 L650.6 1032.5 L650.6 1058.5 L654.4 1062.5 L654.4 1086 L658.1 1090 L658.1 1111 L661 1115 L661 1116 L663.8 1120 L663.8 1141 L667.2 1145 L667.2 1166 L670.8 1170 L670.8 1191 L674.2 1195 L674.2 1216 L677.5 1220 L677.5 1241 L680.8 1245 L680.8 1266 L684 1270 L684 1286.8 L686.9 1290.8 L686.9 1307.7 L689.8 1311.7 L689.8 1328.5 L692.5 1332.5 L692.5 1348.7 L695 1352.7 L695 1368.8 L697.5 1372.8 L697.5 1389 L700.1 1393 L700.1 1403.5 L701.9 1407.5 L701.9 1408 L702.2 1410 L704 1410 L704.4 1408 L704.4 1407.5 L706.1 1403.5 L706.1 1393 L708.8 1389 L708.8 1372.8 L711.2 1368.8 L711.2 1352.7 L713.8 1348.7 L713.8 1332.5 L716.5 1328.5 L716.5 1311.7 L719.4 1307.7 L719.4 1290.8 L722.3 1286.8 L722.3 1270 L725.4 1266 L725.4 1245 L728.8 1241 L728.8 1220 L732.1 1216 L732.1 1195 L735.2 1191 L735.2 1170 L738.1 1166 L738.1 1145 L741 1141 L741 1120 L744 1116 L744 1100 L747.1 1096 L747.1 1075 L750.4 1071 L750.4 1050 L753.8 1046 L753.8 1022.5 L757.1 1018.5 L757.1 995 L760.6 991 L760.6 965 L764 961 L764 937.5 L767.1 933.5 L767.1 910 L770 906 L770 885 L772.5 881 L772.5 865 L773.8 861 L773.8 845Z" stroke-width="1.00" stroke="#000"/>
</g>
<line x1="267.6" y1="852" x2="266.2" y2="1410.9" stroke="#0000ff" stroke-width="1" stroke-dasharray="10.5 6.8" opacity="0.85"/>
<line x1="338.8" y1="850" x2="331.8" y2="1410.9" stroke="#0000ff" stroke-width="1" stroke-dasharray="10.5 6.8" opacity="0.85"/>
<line x1="413.6" y1="852" x2="411" y2="1410.9" stroke="#0000ff" stroke-width="1" stroke-dasharray="10.5 6.8" opacity="0.85"/>
<line x1="557" y1="852" x2="555.4" y2="1410.9" stroke="#0000ff" stroke-width="1" stroke-dasharray="10.5 6.8" opacity="0.85"/>
<line x1="704.3" y1="848" x2="702.4" y2="1410.9" stroke="#0000ff" stroke-width="1" stroke-dasharray="10.5 6.8" opacity="0.85"/>
<path d="M123.9 852 H863.1 V1410.9 H123.9" fill="none" stroke="#666" stroke-width="1.5"/>
<path d="M127.6 852 V1411.1 H860" fill="none" stroke="#1a1a1a" stroke-width="1.9"/>
<text x="211.8" y="1454.9" font-family="'Liberation Sans', sans-serif" font-size="31" fill="#2b2b2b" text-anchor="middle">20</text><text x="304.6" y="1454.9" font-family="'Liberation Sans', sans-serif" font-size="31" fill="#2b2b2b" text-anchor="middle">40</text><text x="397.3" y="1454.9" font-family="'Liberation Sans', sans-serif" font-size="31" fill="#2b2b2b" text-anchor="middle">60</text><text x="490.1" y="1454.9" font-family="'Liberation Sans', sans-serif" font-size="31" fill="#2b2b2b" text-anchor="middle">80</text><text x="582.9" y="1454.9" font-family="'Liberation Sans', sans-serif" font-size="31" fill="#2b2b2b" text-anchor="middle">100</text><text x="675.7" y="1454.9" font-family="'Liberation Sans', sans-serif" font-size="31" fill="#2b2b2b" text-anchor="middle">120</text><text x="768.4" y="1454.9" font-family="'Liberation Sans', sans-serif" font-size="31" fill="#2b2b2b" text-anchor="middle">140</text><text x="861.2" y="1454.9" font-family="'Liberation Sans', sans-serif" font-size="31" fill="#2b2b2b" text-anchor="middle">160</text>
<text x="112.1" y="866" font-family="'Liberation Sans', sans-serif" font-size="31" fill="#2b2b2b" text-anchor="end">1</text><text x="112.1" y="977.5" font-family="'Liberation Sans', sans-serif" font-size="31" fill="#2b2b2b" text-anchor="end">0.8</text><text x="112.1" y="1089.1" font-family="'Liberation Sans', sans-serif" font-size="31" fill="#2b2b2b" text-anchor="end">0.6</text><text x="112.1" y="1200.7" font-family="'Liberation Sans', sans-serif" font-size="31" fill="#2b2b2b" text-anchor="end">0.4</text><text x="112.1" y="1312.2" font-family="'Liberation Sans', sans-serif" font-size="31" fill="#2b2b2b" text-anchor="end">0.2</text><text x="112.1" y="1423.8" font-family="'Liberation Sans', sans-serif" font-size="31" fill="#2b2b2b" text-anchor="end">0</text>
<text x="411.7" y="1498.1" font-family="'Liberation Serif', serif" font-size="39.5" fill="#4a4a4a" textLength="157.5" lengthAdjust="spacingAndGlyphs">&#937; [rad/s]</text>
<text x="46.9" y="1158.8" font-family="'Liberation Serif', serif" font-size="39.5" fill="#5c5c5c" textLength="51" lengthAdjust="spacingAndGlyphs" transform="rotate(-90 46.9 1158.8)"><tspan font-style="italic" font-size="50">&#949;</tspan><tspan font-size="31" dy="5.3">11</tspan><tspan dy="-5.3" font-size="1">&#8203;</tspan></text>
<text x="132" y="1575.5" font-family="'Liberation Serif', serif" font-size="43" fill="#000" textLength="343.5" lengthAdjust="spacingAndGlyphs">(c) ASV case with</text><text x="490" y="1575.5" font-family="'Liberation Serif', serif" font-size="43" fill="#000" textLength="52" lengthAdjust="spacingAndGlyphs"><tspan font-style="italic" font-size="43">&#949;</tspan><tspan font-size="30.1" dy="7.3">22</tspan><tspan dy="-7.3" font-size="1">&#8203;</tspan></text><text x="560" y="1575.5" font-family="'Liberation Serif', serif" font-size="43" fill="#000" textLength="32" lengthAdjust="spacingAndGlyphs">=</text><text x="605" y="1575.5" font-family="'Liberation Serif', serif" font-size="43" fill="#000" textLength="53" lengthAdjust="spacingAndGlyphs">0.5</text><text x="666.5" y="1575.5" font-family="'Liberation Serif', serif" font-size="43" fill="#000" textLength="52" lengthAdjust="spacingAndGlyphs"><tspan font-style="italic" font-size="43">&#949;</tspan><tspan font-size="30.1" dy="7.3">11</tspan><tspan dy="-7.3" font-size="1">&#8203;</tspan></text><text x="724.5" y="1575.5" font-family="'Liberation Serif', serif" font-size="43" fill="#000" textLength="8" lengthAdjust="spacingAndGlyphs">.</text>
<text x="289.1" y="1390" font-family="'Liberation Sans', sans-serif" font-size="29" fill="#0000ff" textLength="29" lengthAdjust="spacingAndGlyphs" transform="rotate(-90 289.1 1390)"><tspan font-family="'Liberation Serif', serif" font-style="italic" font-size="31.9">&#969;</tspan><tspan font-weight="bold" font-size="23.2" dy="14.5">f</tspan><tspan dy="-14.5" font-size="1">&#8203;</tspan></text>
<text x="362.9" y="1407" font-family="'Liberation Sans', sans-serif" font-size="29" fill="#0000ff" textLength="153" lengthAdjust="spacingAndGlyphs" transform="rotate(-90 362.9 1407)"><tspan font-weight="bold">(</tspan><tspan font-family="'Liberation Serif', serif" font-style="italic" font-size="31.9">&#969;</tspan><tspan font-weight="bold" font-size="23.2" dy="14.5">f</tspan><tspan dy="-14.5" font-size="1">&#8203;</tspan><tspan font-weight="bold"> + </tspan><tspan font-family="'Liberation Serif', serif" font-style="italic" font-size="31.9">&#969;</tspan><tspan font-weight="bold" font-size="23.2" dy="14.5">p</tspan><tspan dy="-14.5" font-size="1">&#8203;</tspan><tspan font-weight="bold">)/2</tspan></text>
<text x="452.5" y="1391.5" font-family="'Liberation Sans', sans-serif" font-size="29" fill="#0000ff" textLength="132" lengthAdjust="spacingAndGlyphs" transform="rotate(-90 452.5 1391.5)"><tspan font-weight="bold">2 </tspan><tspan font-family="'Liberation Serif', serif" font-style="italic" font-size="31.9">&#969;</tspan><tspan font-weight="bold" font-size="23.2" dy="14.5">f</tspan><tspan dy="-14.5" font-size="1">&#8203;</tspan><tspan font-weight="bold"> , </tspan><tspan font-family="'Liberation Serif', serif" font-style="italic" font-size="31.9">&#969;</tspan><tspan font-weight="bold" font-size="23.2" dy="14.5">p</tspan><tspan dy="-14.5" font-size="1">&#8203;</tspan></text>
<text x="588.8" y="1387" font-family="'Liberation Sans', sans-serif" font-size="29" fill="#0000ff" textLength="102" lengthAdjust="spacingAndGlyphs" transform="rotate(-90 588.8 1387)"><tspan font-family="'Liberation Serif', serif" font-style="italic" font-size="31.9">&#969;</tspan><tspan font-weight="bold" font-size="23.2" dy="14.5">f</tspan><tspan dy="-14.5" font-size="1">&#8203;</tspan><tspan font-weight="bold"> + </tspan><tspan font-family="'Liberation Serif', serif" font-style="italic" font-size="31.9">&#969;</tspan><tspan font-weight="bold" font-size="23.2" dy="14.5">p</tspan><tspan dy="-14.5" font-size="1">&#8203;</tspan></text>
<text x="751.5" y="1396.5" font-family="'Liberation Sans', sans-serif" font-size="29" fill="#0000ff" textLength="57" lengthAdjust="spacingAndGlyphs" transform="rotate(-90 751.5 1396.5)"><tspan font-weight="bold">2 </tspan><tspan font-family="'Liberation Serif', serif" font-style="italic" font-size="31.9">&#969;</tspan><tspan font-weight="bold" font-size="23.2" dy="14.5">f</tspan><tspan dy="-14.5" font-size="1">&#8203;</tspan></text>
<text x="283.3" y="1174.3" font-family="'Liberation Sans', sans-serif" font-size="30.5" fill="#000" textLength="44" lengthAdjust="spacingAndGlyphs">CR</text>
<line x1="310" y1="1142" x2="327.7" y2="1100.5" stroke="#000" stroke-width="0.95"/><path d="M333 1088 L332.2 1111.6 L327.7 1100.5 L316.6 1104.9Z" fill="#000"/>
<text x="589.5" y="1239.3" font-family="'Liberation Sans', sans-serif" font-size="30.5" fill="#000" textLength="44" lengthAdjust="spacingAndGlyphs">CR</text>
<line x1="611.3" y1="1204.3" x2="565.5" y2="1162.2" stroke="#000" stroke-width="0.95"/><path d="M555.5 1153 L577.4 1161.6 L565.5 1162.2 L565.9 1174.1Z" fill="#000"/>
<clipPath id="clip_d"><rect x="1024.2" y="854.2" width="735.7" height="560.4"/></clipPath>
<g clip-path="url(#clip_d)" fill="#ff0000" stroke="#000" stroke-linejoin="round">
<path d="M1023 845 L1023.5 862.5 L1025.5 861.2 L1027.5 866.2 L1031.2 865.5 L1032.5 861.2 L1038.8 863.8 L1040 886.2 L1044.5 889.5 L1047 886.2 L1047 875 L1050 881.2 L1052.8 880 L1054.5 866.2 L1052 862.5 L1050 865 L1049.5 845Z" stroke-width="1.00" stroke="#000"/>
<ellipse cx="1025" cy="868.8" rx="1.6" ry="1.4" stroke-width="1"/>
<ellipse cx="1027.5" cy="878" rx="1.5" ry="1.3" stroke-width="1"/>
<ellipse cx="1032.5" cy="879" rx="2.2" ry="2.2" stroke-width="1"/>
<ellipse cx="1030" cy="896.2" rx="1.6" ry="1.4" stroke-width="1"/>
<ellipse cx="1042.5" cy="896.2" rx="1.7" ry="1.5" stroke-width="1"/>
<ellipse cx="1035" cy="902" rx="1.5" ry="1.3" stroke-width="1"/>
<ellipse cx="1037.5" cy="905.5" rx="1.6" ry="1.4" stroke-width="1"/>
<ellipse cx="1040" cy="924.2" rx="1.7" ry="1.5" stroke-width="1"/>
<ellipse cx="1064.5" cy="986.8" rx="2.3" ry="2.3" stroke-width="1"/>
<ellipse cx="1074.5" cy="1028" rx="2.3" ry="2.3" stroke-width="1"/>
<ellipse cx="1089.5" cy="1042" rx="1.9" ry="1.6" stroke-width="1"/>
<ellipse cx="1079.2" cy="1077.5" rx="1.8" ry="1.5" stroke-width="1"/>
<ellipse cx="1089.2" cy="1082" rx="2.4" ry="2.4" stroke-width="1"/>
<ellipse cx="1103.8" cy="1092" rx="2.1" ry="1.9" stroke-width="1"/>
<ellipse cx="1052" cy="926.2" rx="2.2" ry="4.2" stroke-width="1"/>
<ellipse cx="1057.5" cy="926.2" rx="2.2" ry="5.2" stroke-width="1"/>
<ellipse cx="1055" cy="937.5" rx="2.4" ry="4.2" stroke-width="1"/>
<rect x="1047.5" y="890" width="5" height="17" rx="2.5" ry="3.2" stroke-width="1"/>
<path d="M1059.5 845 L1059.5 877.5 L1057.5 882.5 L1057.5 908 L1060 911 L1062.5 908 L1063 845Z" stroke-width="1.00" stroke="#000"/>
<path d="M1064.5 845 L1064.5 908 L1067 911 L1069.5 908 L1070 845Z" stroke-width="1.00" stroke="#000"/>
<path d="M1070.8 845 L1070.8 909 L1073 912 L1075.2 909 L1075.2 845Z" stroke-width="1.00" stroke="#000"/>
<path d="M1076.5 845 L1076.5 895 L1078.5 898 L1080.5 895 L1080.5 845Z" stroke-width="1.00" stroke="#000"/>
<path d="M1082.2 845 L1082.2 895.5 L1084.5 898.5 L1087 895.5 L1087 845Z" stroke-width="1.00" stroke="#000"/>
<rect x="1084.5" y="913" width="5" height="47.8" rx="2.5" ry="3.2" stroke-width="1"/>
<rect x="1077" y="928" width="5" height="32.8" rx="2.5" ry="3.2" stroke-width="1"/>
<ellipse cx="1101.2" cy="920" rx="2.6" ry="6.2" stroke-width="1"/>
<path d="M1090.8 845 L1092.5 895 L1094.5 900 L1094.5 965 L1096.8 968.2 L1099.2 965 L1099.2 900 L1097.2 845Z" stroke-width="1.00" stroke="#000"/>
<path d="M1102.5 845 L1103.2 875 L1106.2 880 L1106.8 956.2 L1109 959.5 L1111.5 956.2 L1111.5 845Z" stroke-width="1.00" stroke="#000"/>
<path d="M1116.2 845 L1118 875 L1120 880 L1120 915 L1123.8 920 L1124.5 950 L1126.2 955 L1126.2 998.8 L1128.5 1002 L1131 998.8 L1131.5 845Z" stroke-width="1.00" stroke="#000"/>
<path d="M1123.8 967.2 Q1126.2 969.8 1126.2 973 V984.5 Q1126.2 987.7 1123.8 990.2 Q1121.3 987.7 1121.3 984.5 V973 Q1121.3 969.8 1123.8 967.2Z" stroke-width="1"/>
<rect x="1109.2" y="973" width="5" height="53" rx="2.5" ry="3.2" stroke-width="1"/>
<rect x="1128.8" y="1008" width="5" height="63" rx="2.5" ry="3.2" stroke-width="1"/>
<ellipse cx="1099" cy="1062" rx="2.6" ry="7.6" stroke-width="1"/>
<ellipse cx="1113.8" cy="1148" rx="2.5" ry="2.9" stroke-width="1"/>
<ellipse cx="1126.2" cy="1154.5" rx="2.3" ry="2.2" stroke-width="1"/>
<rect x="1131.2" y="1187" width="5.2" height="11.2" rx="2.6" ry="3.4" stroke-width="1"/>
<rect x="1210" y="1340.5" width="5" height="10.2" rx="2.5" ry="3.2" stroke-width="1"/>
<path d="M1140.8 845 L1141 857.5 L1142.5 870 L1145 900 L1147.5 925 L1150 950 L1152.5 980 L1154.5 1010 L1156.2 1040 L1157.2 1065 L1157.8 1100 L1158 1120 L1158 1132.5 L1160.5 1135.5 L1160.5 1292.5 L1163 1295.8 L1163.5 1295.8 L1166 1292.5 L1166 1120 L1166.2 1100 L1166.2 845Z" stroke-width="1.00" stroke="#000"/>
<path d="M1180 845 L1180.5 860 L1182.5 875 L1185 900 L1188 925 L1191.2 955 L1194.2 985 L1197.5 1015 L1200.5 1045 L1203.2 1075 L1205.5 1105 L1205.5 1120 L1205.5 1142.5 L1207.5 1145.5 L1207.5 1206.2 L1210 1209.5 L1210.5 1209.5 L1212.8 1206.2 L1212.8 1120 L1212.5 1115 L1212.5 988 L1210.5 985 L1210.5 845Z" stroke-width="1.00" stroke="#000"/>
<path d="M1219.5 845 L1222.5 861.5 L1225.5 845Z" stroke-width="1.00" stroke="#000"/>
<path d="M1225 886 Q1227.7 888.9 1227.7 892.5 V912.5 Q1227.7 916.1 1225 919 Q1222.3 916.1 1222.3 912.5 V892.5 Q1222.3 888.9 1225 886Z" stroke-width="1"/>
<path d="M1227 946.5 Q1229.7 949.4 1229.7 952.9 V969.6 Q1229.7 973.1 1227 976 Q1224.3 973.1 1224.3 969.6 V952.9 Q1224.3 949.4 1227 946.5Z" stroke-width="1"/>
<path d="M1229.5 1009.8 Q1232.2 1012.7 1232.2 1016.2 V1031.3 Q1232.2 1034.8 1229.5 1037.8 Q1226.8 1034.8 1226.8 1031.3 V1016.2 Q1226.8 1012.7 1229.5 1009.8Z" stroke-width="1"/>
<path d="M1232.5 1082.8 Q1235.2 1085.5 1235.2 1088.9 V1101.1 Q1235.2 1104.5 1232.5 1107.2 Q1229.8 1104.5 1229.8 1101.1 V1088.9 Q1229.8 1085.5 1232.5 1082.8Z" stroke-width="1"/>
<ellipse cx="1234.5" cy="1192.5" rx="2.7" ry="8.6" stroke-width="1"/>
<path d="M1253.8 845 L1254 857.5 L1256.2 875 L1260 900 L1263.8 925 L1267.5 950 L1271.2 975 L1275 1000 L1278.8 1025 L1282.5 1050 L1285.5 1075 L1288 1100 L1288.8 1120 L1288.8 1140 L1292 1145 L1292 1177.5 L1293.8 1182.5 L1293.8 1215 L1296.2 1220 L1296.2 1250 L1299.5 1255 L1299.5 1290 L1302 1295 L1302 1325 L1304.5 1330 L1304.5 1362.5 L1307.5 1367.5 L1307.5 1400 L1309 1403.2 L1310 1403.2 L1311.2 1400 L1311.2 1385 L1313 1380 L1313 1347.5 L1315.8 1342.5 L1315.8 1310 L1318.8 1305 L1318.8 1272.5 L1320 1267.5 L1320 1232.5 L1323.8 1227.5 L1323.8 1192.5 L1326.2 1187.5 L1326.2 1150 L1328.8 1145 L1328.8 1120 L1329 1115 L1330.8 1110 L1330.8 1075 L1333.8 1070 L1333.8 1035 L1336.2 1030 L1336.2 995 L1338 990 L1338 955 L1340.8 950 L1340.8 915 L1343.8 910 L1343.8 875 L1345.8 872.5 L1345.8 845Z" stroke-width="1.00" stroke="#000"/>
<path d="M1419.5 845 L1419.5 854.2 L1421.2 875 L1425 912.5 L1429.5 950 L1433 987.5 L1436.2 1025 L1439.5 1062.5 L1441.8 1100 L1442.2 1120 L1442.5 1120 L1444.5 1125.5 L1445 1125.5 L1446.8 1120 L1446.8 1120 L1446.2 1100 L1443.8 1062.5 L1440.5 1025 L1437.5 987.5 L1433.8 950 L1430 912.5 L1426.2 875 L1424.2 854.2 L1424.2 845Z" stroke-width="1.60" stroke="#000"/>
<path d="M1446.8 1124.8 Q1449.5 1127.8 1449.5 1131.5 V1156 Q1449.5 1159.7 1446.8 1162.8 Q1444 1159.7 1444 1156 V1131.5 Q1444 1127.8 1446.8 1124.8Z" stroke-width="1"/>
<path d="M1449.2 1166 Q1452 1169 1452 1172.7 V1196.3 Q1452 1200 1449.2 1203 Q1446.5 1200 1446.5 1196.3 V1172.7 Q1446.5 1169 1449.2 1166Z" stroke-width="1"/>
<path d="M1451.8 1215.2 Q1454.5 1218.3 1454.5 1222 V1245.5 Q1454.5 1249.2 1451.8 1252.2 Q1449 1249.2 1449 1245.5 V1222 Q1449 1218.3 1451.8 1215.2Z" stroke-width="1"/>
<path d="M1453.8 1284.5 Q1456.7 1287.6 1456.7 1291.5 V1312.5 Q1456.7 1316.4 1453.8 1319.5 Q1450.8 1316.4 1450.8 1312.5 V1291.5 Q1450.8 1287.6 1453.8 1284.5Z" stroke-width="1"/>
<path d="M1455 850.8 L1455 853.7 L1456.3 855.3 L1456.3 861.5 L1458 863 L1458 869.2 L1459.7 870.8 L1459.7 876.3 L1461.5 877.9 L1461.5 883.3 L1463.2 884.9 L1463.2 890.4 L1465 892 L1465 897.4 L1466.8 899 L1466.8 904.5 L1468.6 906.1 L1468.6 911.6 L1470.3 913.2 L1470.3 918.6 L1472.1 920.2 L1472.1 925.7 L1473.9 927.3 L1473.9 932.7 L1475.7 934.3 L1475.7 939.8 L1477.5 941.4 L1477.5 946.8 L1479.2 948.4 L1479.2 953.9 L1481 955.5 L1481 961 L1482.8 962.6 L1482.8 968 L1484.6 969.6 L1484.6 975.1 L1486.3 976.7 L1486.3 982.1 L1488.1 983.7 L1488.1 989.2 L1489.9 990.8 L1489.9 996.1 L1491.6 997.7 L1491.6 1003.1 L1493.4 1004.7 L1493.4 1010 L1495.2 1011.6 L1495.2 1017 L1496.9 1018.6 L1496.9 1023.9 L1498.7 1025.5 L1498.7 1030.9 L1500.5 1032.5 L1500.5 1037.8 L1502.2 1039.4 L1502.2 1044.8 L1504 1046.4 L1504 1051.7 L1505.8 1053.3 L1505.8 1058.7 L1507.5 1060.3 L1507.5 1065.6 L1509.3 1067.2 L1509.3 1072.6 L1511 1074.2 L1511 1079.5 L1512.8 1081.1 L1512.8 1086.5 L1514.6 1088.1 L1514.6 1093.4 L1516.3 1095 L1516.3 1100.4 L1518.1 1102 L1518.1 1107.3 L1519.9 1108.9 L1519.9 1114.3 L1521.6 1115.9 L1521.6 1121.2 L1523.4 1122.8 L1523.4 1128.3 L1525.3 1129.9 L1525.3 1135.4 L1527.2 1137 L1527.2 1142.5 L1529 1144.1 L1529 1149.6 L1530.9 1151.2 L1530.9 1156.8 L1532.7 1158.4 L1532.7 1163.9 L1534.6 1165.5 L1534.6 1171 L1536.5 1172.6 L1536.5 1178.1 L1538.3 1179.7 L1538.3 1185.2 L1540.2 1186.8 L1540.2 1192.3 L1542 1193.9 L1542 1199.4 L1543.9 1201 L1543.9 1206.5 L1545.8 1208.1 L1545.8 1213.6 L1547.6 1215.2 L1547.6 1220.8 L1549.5 1222.4 L1549.5 1227.9 L1551.3 1229.5 L1551.3 1235 L1553.2 1236.6 L1553.2 1242.1 L1555.1 1243.7 L1555.1 1249.2 L1556.9 1250.8 L1556.9 1256.1 L1558.8 1257.7 L1558.8 1263 L1560.6 1264.6 L1560.6 1270 L1562.5 1271.6 L1562.5 1276.9 L1564.3 1278.5 L1564.3 1283.8 L1566.2 1285.4 L1566.2 1290.7 L1568 1292.3 L1568 1297.7 L1569.8 1299.3 L1569.8 1304.6 L1571.7 1306.2 L1571.7 1311.5 L1573.5 1313.1 L1573.5 1318.4 L1575.4 1320 L1575.4 1325.4 L1577.2 1327 L1577.2 1332.3 L1579.1 1333.9 L1579.1 1339.2 L1581 1340.8 L1581 1345.8 L1583 1347.4 L1583 1352.5 L1584.9 1354 L1584.9 1359.1 L1586.9 1360.7 L1586.9 1365.7 L1588.9 1367.3 L1588.9 1372.3 L1590.9 1373.9 L1590.9 1379 L1592.8 1380.5 L1592.8 1385.6 L1594.8 1387.2 L1594.8 1392.2 L1596.8 1393.8 L1596.8 1398.7 L1598.7 1400.3 L1598.7 1405.2 L1600.6 1406.8 L1600.6 1411.7 L1601.6 1412.5 L1603.6 1412.5 L1604.5 1411.7 L1604.5 1406.8 L1606.2 1405.2 L1606.2 1400.3 L1607.9 1398.7 L1607.9 1393.8 L1609.6 1392.2 L1609.6 1387.2 L1611.2 1385.6 L1611.2 1380.5 L1612.8 1379 L1612.8 1373.9 L1614.4 1372.3 L1614.4 1367.3 L1615.9 1365.7 L1615.9 1360.7 L1617.5 1359.1 L1617.5 1354 L1619.1 1352.5 L1619.1 1347.4 L1620.7 1345.8 L1620.7 1340.8 L1622.4 1339.2 L1622.4 1333.9 L1624.1 1332.3 L1624.1 1327 L1625.8 1325.4 L1625.8 1320 L1627.6 1318.4 L1627.6 1313.1 L1629.3 1311.5 L1629.3 1306.2 L1631 1304.6 L1631 1299.3 L1632.8 1297.7 L1632.8 1292.3 L1634.5 1290.7 L1634.5 1285.4 L1636.2 1283.8 L1636.2 1278.5 L1637.9 1276.9 L1637.9 1271.6 L1639.7 1270 L1639.7 1264.6 L1641.4 1263 L1641.4 1257.7 L1643.1 1256.1 L1643.1 1250.8 L1644.9 1249.2 L1644.9 1243.7 L1646.6 1242.1 L1646.6 1236.6 L1648.4 1235 L1648.4 1229.5 L1650.1 1227.9 L1650.1 1222.4 L1651.9 1220.8 L1651.9 1215.2 L1653.7 1213.6 L1653.7 1208.1 L1655.4 1206.5 L1655.4 1201 L1657.2 1199.4 L1657.2 1193.9 L1658.9 1192.3 L1658.9 1186.8 L1660.7 1185.2 L1660.7 1179.7 L1662.4 1178.1 L1662.4 1172.6 L1664.2 1171 L1664.2 1165.5 L1665.9 1163.9 L1665.9 1158.4 L1667.7 1156.8 L1667.7 1151.2 L1669.5 1149.6 L1669.5 1144.1 L1671.2 1142.5 L1671.2 1137 L1673 1135.4 L1673 1129.9 L1674.7 1128.3 L1674.7 1122.8 L1676.4 1121.2 L1676.4 1115.9 L1678.1 1114.3 L1678.1 1108.9 L1679.7 1107.3 L1679.7 1102 L1681.4 1100.4 L1681.4 1095 L1683 1093.4 L1683 1088.1 L1684.7 1086.5 L1684.7 1081.1 L1686.3 1079.5 L1686.3 1074.2 L1688 1072.6 L1688 1067.2 L1689.6 1065.6 L1689.6 1060.3 L1691.3 1058.7 L1691.3 1053.3 L1693 1051.7 L1693 1046.4 L1694.6 1044.8 L1694.6 1039.4 L1696.3 1037.8 L1696.3 1032.5 L1697.9 1030.9 L1697.9 1025.5 L1699.6 1023.9 L1699.6 1018.6 L1701.2 1017 L1701.2 1011.6 L1702.9 1010 L1702.9 1004.7 L1704.5 1003.1 L1704.5 997.7 L1706.2 996.1 L1706.2 990.8 L1707.8 989.2 L1707.8 983.7 L1709.5 982.1 L1709.5 976.5 L1711.2 974.9 L1711.2 969.4 L1712.9 967.8 L1712.9 962.3 L1714.5 960.7 L1714.5 955.1 L1716.2 953.5 L1716.2 948 L1717.9 946.4 L1717.9 940.9 L1719.6 939.3 L1719.6 933.7 L1721.2 932.1 L1721.2 926.6 L1722.9 925 L1722.9 919.5 L1724.6 917.9 L1724.6 912.4 L1726.2 910.8 L1726.2 905.2 L1727.9 903.6 L1727.9 898.1 L1729.6 896.5 L1729.6 891 L1731.3 889.4 L1731.3 883.8 L1732.9 882.2 L1732.9 876.7 L1734.6 875.1 L1734.6 869.6 L1736.3 868 L1736.3 862.4 L1738 860.8 L1738 855.3 L1739 853.7 L1739 850.8Z" stroke-width="0.90" stroke="#000"/>
<line x1="1659.3" y1="850" x2="1659.3" y2="1186" stroke="#ff6a6a" stroke-width="0.7"/>
</g>
<line x1="1166" y1="854.2" x2="1163.6" y2="1414.6" stroke="#0000ff" stroke-width="1" stroke-dasharray="10.5 6.8" opacity="0.85"/>
<line x1="1239" y1="852.2" x2="1233" y2="1414.6" stroke="#0000ff" stroke-width="1" stroke-dasharray="10.5 6.8" opacity="0.85"/>
<line x1="1314.6" y1="854.2" x2="1310.4" y2="1414.6" stroke="#0000ff" stroke-width="1" stroke-dasharray="10.5 6.8" opacity="0.85"/>
<line x1="1455.5" y1="854.2" x2="1454.5" y2="1414.6" stroke="#0000ff" stroke-width="1" stroke-dasharray="10.5 6.8" opacity="0.85"/>
<line x1="1603.2" y1="854.2" x2="1602.2" y2="1414.6" stroke="#0000ff" stroke-width="1" stroke-dasharray="10.5 6.8" opacity="0.85"/>
<rect x="1024.2" y="854.2" width="735.7" height="560.4" fill="none" stroke="#666" stroke-width="1.5"/>
<text x="1110.4" y="1454.9" font-family="'Liberation Sans', sans-serif" font-size="31" fill="#2b2b2b" text-anchor="middle">20</text><text x="1203.3" y="1454.9" font-family="'Liberation Sans', sans-serif" font-size="31" fill="#2b2b2b" text-anchor="middle">40</text><text x="1296.1" y="1454.9" font-family="'Liberation Sans', sans-serif" font-size="31" fill="#2b2b2b" text-anchor="middle">60</text><text x="1389" y="1454.9" font-family="'Liberation Sans', sans-serif" font-size="31" fill="#2b2b2b" text-anchor="middle">80</text><text x="1481.9" y="1454.9" font-family="'Liberation Sans', sans-serif" font-size="31" fill="#2b2b2b" text-anchor="middle">100</text><text x="1574.8" y="1454.9" font-family="'Liberation Sans', sans-serif" font-size="31" fill="#2b2b2b" text-anchor="middle">120</text><text x="1667.6" y="1454.9" font-family="'Liberation Sans', sans-serif" font-size="31" fill="#2b2b2b" text-anchor="middle">140</text><text x="1760.5" y="1454.9" font-family="'Liberation Sans', sans-serif" font-size="31" fill="#2b2b2b" text-anchor="middle">160</text>
<text x="1011.1" y="866" font-family="'Liberation Sans', sans-serif" font-size="31" fill="#2b2b2b" text-anchor="end">1</text><text x="1011.1" y="977.5" font-family="'Liberation Sans', sans-serif" font-size="31" fill="#2b2b2b" text-anchor="end">0.8</text><text x="1011.1" y="1089.1" font-family="'Liberation Sans', sans-serif" font-size="31" fill="#2b2b2b" text-anchor="end">0.6</text><text x="1011.1" y="1200.7" font-family="'Liberation Sans', sans-serif" font-size="31" fill="#2b2b2b" text-anchor="end">0.4</text><text x="1011.1" y="1312.2" font-family="'Liberation Sans', sans-serif" font-size="31" fill="#2b2b2b" text-anchor="end">0.2</text><text x="1011.1" y="1423.8" font-family="'Liberation Sans', sans-serif" font-size="31" fill="#2b2b2b" text-anchor="end">0</text>
<text x="1311" y="1498.1" font-family="'Liberation Serif', serif" font-size="39.5" fill="#4a4a4a" textLength="157.5" lengthAdjust="spacingAndGlyphs">&#937; [rad/s]</text>
<text x="945.6" y="1158.8" font-family="'Liberation Serif', serif" font-size="39.5" fill="#5c5c5c" textLength="52" lengthAdjust="spacingAndGlyphs" transform="rotate(-90 945.6 1158.8)"><tspan font-style="italic" font-size="50">&#949;</tspan><tspan font-size="31" dy="5.3">22</tspan><tspan dy="-5.3" font-size="1">&#8203;</tspan></text>
<text x="1045" y="1575.5" font-family="'Liberation Serif', serif" font-size="43" fill="#000" textLength="348.5" lengthAdjust="spacingAndGlyphs">(d) ASV case with</text><text x="1408" y="1575.5" font-family="'Liberation Serif', serif" font-size="43" fill="#000" textLength="54" lengthAdjust="spacingAndGlyphs"><tspan font-style="italic" font-size="43">&#949;</tspan><tspan font-size="30.1" dy="7.3">22</tspan><tspan dy="-7.3" font-size="1">&#8203;</tspan></text><text x="1478" y="1575.5" font-family="'Liberation Serif', serif" font-size="43" fill="#000" textLength="32" lengthAdjust="spacingAndGlyphs">=</text><text x="1523.5" y="1575.5" font-family="'Liberation Serif', serif" font-size="43" fill="#000" textLength="19.5" lengthAdjust="spacingAndGlyphs">2</text><text x="1551.5" y="1575.5" font-family="'Liberation Serif', serif" font-size="43" fill="#000" textLength="51.5" lengthAdjust="spacingAndGlyphs"><tspan font-style="italic" font-size="43">&#949;</tspan><tspan font-size="30.1" dy="7.3">11</tspan><tspan dy="-7.3" font-size="1">&#8203;</tspan></text><text x="1608.5" y="1575.5" font-family="'Liberation Serif', serif" font-size="43" fill="#000" textLength="8" lengthAdjust="spacingAndGlyphs">.</text>
<text x="1188.8" y="1350" font-family="'Liberation Sans', sans-serif" font-size="29" fill="#0000ff" textLength="28" lengthAdjust="spacingAndGlyphs" transform="rotate(-90 1188.8 1350)"><tspan font-family="'Liberation Serif', serif" font-style="italic" font-size="31.9">&#969;</tspan><tspan font-weight="bold" font-size="23.2" dy="14.5">f</tspan><tspan dy="-14.5" font-size="1">&#8203;</tspan></text>
<text x="1264.3" y="1397" font-family="'Liberation Sans', sans-serif" font-size="29" fill="#0000ff" textLength="153" lengthAdjust="spacingAndGlyphs" transform="rotate(-90 1264.3 1397)"><tspan font-weight="bold">(</tspan><tspan font-family="'Liberation Serif', serif" font-style="italic" font-size="31.9">&#969;</tspan><tspan font-weight="bold" font-size="23.2" dy="14.5">f</tspan><tspan dy="-14.5" font-size="1">&#8203;</tspan><tspan font-weight="bold"> + </tspan><tspan font-family="'Liberation Serif', serif" font-style="italic" font-size="31.9">&#969;</tspan><tspan font-weight="bold" font-size="23.2" dy="14.5">p</tspan><tspan dy="-14.5" font-size="1">&#8203;</tspan><tspan font-weight="bold">)/2</tspan></text>
<text x="1359.5" y="1393.5" font-family="'Liberation Sans', sans-serif" font-size="29" fill="#0000ff" textLength="131" lengthAdjust="spacingAndGlyphs" transform="rotate(-90 1359.5 1393.5)"><tspan font-weight="bold">2 </tspan><tspan font-family="'Liberation Serif', serif" font-style="italic" font-size="31.9">&#969;</tspan><tspan font-weight="bold" font-size="23.2" dy="14.5">f</tspan><tspan dy="-14.5" font-size="1">&#8203;</tspan><tspan font-weight="bold"> , </tspan><tspan font-family="'Liberation Serif', serif" font-style="italic" font-size="31.9">&#969;</tspan><tspan font-weight="bold" font-size="23.2" dy="14.5">p</tspan><tspan dy="-14.5" font-size="1">&#8203;</tspan></text>
<text x="1489.1" y="1387.4" font-family="'Liberation Sans', sans-serif" font-size="29" fill="#0000ff" textLength="104" lengthAdjust="spacingAndGlyphs" transform="rotate(-90 1489.1 1387.4)"><tspan font-family="'Liberation Serif', serif" font-style="italic" font-size="31.9">&#969;</tspan><tspan font-weight="bold" font-size="23.2" dy="14.5">f</tspan><tspan dy="-14.5" font-size="1">&#8203;</tspan><tspan font-weight="bold"> + </tspan><tspan font-family="'Liberation Serif', serif" font-style="italic" font-size="31.9">&#969;</tspan><tspan font-weight="bold" font-size="23.2" dy="14.5">p</tspan><tspan dy="-14.5" font-size="1">&#8203;</tspan></text>
<text x="1648.5" y="1403.4" font-family="'Liberation Sans', sans-serif" font-size="29" fill="#0000ff" textLength="64" lengthAdjust="spacingAndGlyphs" transform="rotate(-90 1648.5 1403.4)"><tspan font-weight="bold">2 </tspan><tspan font-family="'Liberation Serif', serif" font-style="italic" font-size="31.9">&#969;</tspan><tspan font-weight="bold" font-size="23.2" dy="14.5">p</tspan><tspan dy="-14.5" font-size="1">&#8203;</tspan></text>
<text x="1241" y="1179.5" font-family="'Liberation Sans', sans-serif" font-size="30.5" fill="#000" textLength="44" lengthAdjust="spacingAndGlyphs">CR</text>
<line x1="1258.8" y1="1142.5" x2="1246.9" y2="1116.2" stroke="#000" stroke-width="0.95"/><path d="M1241.3 1103.8 L1258.1 1120.3 L1246.9 1116.2 L1242.6 1127.3Z" fill="#000"/>
<text x="1372" y="1212" font-family="'Liberation Sans', sans-serif" font-size="30.5" fill="#000" textLength="44" lengthAdjust="spacingAndGlyphs">CR</text>
<line x1="1410" y1="1173.8" x2="1432.7" y2="1137.8" stroke="#000" stroke-width="0.95"/><path d="M1440 1126.3 L1435.4 1149.4 L1432.7 1137.8 L1421.1 1140.4Z" fill="#000"/>
<clipPath id="clip_e"><rect x="569.5" y="1648.9" width="739.7" height="559.7"/></clipPath>
<g clip-path="url(#clip_e)" fill="#ff0000" stroke="#000" stroke-linejoin="round">
<path d="M573 1640 L573.5 1660.5 L577 1657.5 L578.5 1667.5 L581.5 1669 L583 1659 L587 1657.5 L588 1667.5 L591 1672.5 L592.2 1695 L594.8 1704 L597.2 1701.5 L598 1685 L601 1677.5 L601 1640Z" stroke-width="1.00" stroke="#000"/>
<ellipse cx="577.5" cy="1678.5" rx="2.2" ry="3.6" stroke-width="1"/>
<ellipse cx="583" cy="1675" rx="2" ry="1.8" stroke-width="1"/>
<ellipse cx="580.5" cy="1692.5" rx="1.9" ry="1.5" stroke-width="1"/>
<path d="M583.5 1699 L586 1697 L588.5 1701.5 L590.5 1707.5 L591 1716.2 L592.5 1719 L590 1721 L587 1718 L586 1710.5 L583.5 1706.5Z" stroke-width="1.00" stroke="#000"/>
<ellipse cx="582.8" cy="1745" rx="2" ry="1.7" stroke-width="1"/>
<ellipse cx="580.5" cy="1759.5" rx="2" ry="1.7" stroke-width="1"/>
<ellipse cx="620.2" cy="1843.8" rx="1.9" ry="1.6" stroke-width="1"/>
<ellipse cx="600.5" cy="1918" rx="1.9" ry="1.6" stroke-width="1"/>
<path d="M603.5 1640 L603.5 1661.5 L605.8 1664.5 L608 1661.5 L608 1640Z" stroke-width="1.00" stroke="#000"/>
<rect x="600.5" y="1698" width="5.2" height="53" rx="2.6" ry="3.4" stroke-width="1"/>
<path d="M605.5 1640 L608 1677.5 L606 1695 L605.5 1757.5 L608 1760.8 L610.5 1757.5 L610.5 1710 L615 1707.5 L619.8 1704 L619.8 1640Z" stroke-width="1.00" stroke="#000"/>
<path d="M619.8 1640 L619.8 1747.5 L622.5 1750.8 L625.2 1747.5 L625.2 1690 L631.5 1687.5 L632 1640Z" stroke-width="1.00" stroke="#000"/>
<rect x="627.2" y="1728" width="5.2" height="31.5" rx="2.6" ry="3.4" stroke-width="1"/>
<path d="M632 1640 L632.2 1742.5 L634.8 1745.5 L634.8 1807.5 L637.2 1810.8 L640 1807.5 L640.5 1667.5 L640.8 1640Z" stroke-width="1.00" stroke="#000"/>
<path d="M641 1640 L642.2 1690 L644.8 1705 L644.8 1760 L647.2 1763.2 L649.5 1760 L649.5 1690 L648 1640Z" stroke-width="1.00" stroke="#000"/>
<path d="M649.8 1640 L649.8 1687.5 L652.2 1691.5 L652.2 1730 L654.8 1734 L654.8 1775 L657.2 1779 L657.2 1830 L659.8 1833 L659.8 1895 L661.8 1898 L661.8 1915 L661.8 2012 L664.2 2015.2 L664.8 2015.2 L667 2012 L667 1915 L666.8 1915 L666.8 1843 L664.8 1840 L664.8 1640Z" stroke-width="1.00" stroke="#000"/>
<path d="M668 1640 L669.8 1675 L672.2 1680 L672.2 1712.5 L675.5 1716.5 L676 1795 L678.8 1798.2 L681.5 1795 L681.8 1640Z" stroke-width="1.00" stroke="#000"/>
<rect x="679" y="1804.5" width="5" height="61.5" rx="2.5" ry="3.2" stroke-width="1"/>
<rect x="612.5" y="1767" width="5.2" height="54" rx="2.6" ry="3.4" stroke-width="1"/>
<rect x="622.8" y="1808.2" width="5" height="59.5" rx="2.5" ry="3.2" stroke-width="1"/>
<rect x="637.8" y="1849" width="4.5" height="80.2" rx="2.2" ry="2.9" stroke-width="1"/>
<rect x="647" y="1848.8" width="5" height="15.2" rx="2.5" ry="3.2" stroke-width="1"/>
<ellipse cx="684.2" cy="1988" rx="2.8" ry="4.3" stroke-width="1"/>
<rect x="760.2" y="2135" width="5" height="10.2" rx="2.5" ry="3.2" stroke-width="1"/>
<path d="M686.8 1640 L687 1655 L688.5 1677.5 L689.8 1710 L693.5 1742.5 L696 1775 L698.5 1807.5 L701 1840 L702.2 1870 L703.5 1882.5 L704 1915 L704 1915 L706 1922.5 L706 1971.2 L709 1975 L709 2035 L711 2038 L711 2141.2 L713.5 2144.2 L714.2 2144.2 L716.8 2141.2 L716.8 1915 L716.2 1915 L716.2 1876.2 L718.5 1872.5 L718.5 1705 L721 1700 L721 1640Z" stroke-width="1.00" stroke="#000"/>
<path d="M730.5 1640 L730.8 1652.5 L732.2 1670 L736 1702.5 L739.8 1735 L743.5 1767.5 L746.5 1800 L749.8 1832.5 L752.2 1865 L754.8 1895 L755.5 1915 L755.5 1915 L755.5 1937.5 L758 1940.5 L758 2002.5 L760.5 2005.8 L761.2 2005.8 L763.8 2002.5 L763.8 1915 L763.5 1915 L763.5 1781.5 L761 1777.5 L761 1640Z" stroke-width="1.00" stroke="#000"/>
<path d="M786.4 1649 L786.4 1669 L788.3 1673 L788.3 1693 L791.8 1697 L791.8 1717 L795.1 1721 L795.1 1741 L798.4 1745 L798.4 1765 L801.3 1769 L801.3 1789 L804.3 1793 L804.3 1813 L807.2 1817 L807.2 1837 L810.2 1841 L810.2 1861 L813.4 1865 L813.4 1885 L816.6 1889 L816.6 1909 L819.5 1913 L819.5 1933 L822.4 1937 L822.4 1957 L825.6 1961 L825.6 1981 L828.8 1985 L828.8 2005 L832 2009 L832 2029 L835.8 2033 L835.8 2053 L839.4 2057 L839.4 2077 L842.9 2081 L842.9 2101 L846.1 2105 L846.1 2125 L849.3 2129 L849.3 2149 L852.5 2153 L852.5 2173 L855.7 2177 L855.7 2197 L857.7 2201 L857.7 2205 L858.8 2207 L859.8 2207 L860.9 2205 L860.9 2201 L862.9 2197 L862.9 2177 L866 2173 L866 2153 L869 2149 L869 2129 L872.3 2125 L872.3 2105 L875.8 2101 L875.8 2081 L879.2 2077 L879.2 2057 L881.9 2053 L881.9 2033 L884.8 2029 L884.8 2009 L888.1 2005 L888.1 1985 L891 1981 L891 1961 L893.6 1957 L893.6 1937 L896.3 1933 L896.3 1913 L898.9 1909 L898.9 1889 L901.7 1885 L901.7 1865 L904.6 1861 L904.6 1841 L907.2 1837 L907.2 1817 L910.4 1813 L910.4 1793 L913.4 1789 L913.4 1769 L916.3 1765 L916.3 1745 L919 1741 L919 1721 L922.6 1717 L922.6 1697 L925.1 1693 L925.1 1673 L928.5 1669 L928.5 1649Z" stroke-width="1.00" stroke="#000"/>
<path d="M1006 1645.4 L1006 1648.3 L1007.3 1649.9 L1007.3 1656 L1009 1657.6 L1009 1663.8 L1010.7 1665.4 L1010.7 1670.9 L1012.5 1672.5 L1012.5 1677.9 L1014.2 1679.5 L1014.2 1685 L1016 1686.6 L1016 1692 L1017.8 1693.6 L1017.8 1699.1 L1019.6 1700.7 L1019.6 1706.2 L1021.3 1707.8 L1021.3 1713.2 L1023.1 1714.8 L1023.1 1720.3 L1024.9 1721.9 L1024.9 1727.3 L1026.7 1728.9 L1026.7 1734.4 L1028.5 1736 L1028.5 1741.4 L1030.2 1743 L1030.2 1748.5 L1032 1750.1 L1032 1755.6 L1033.8 1757.2 L1033.8 1762.6 L1035.6 1764.2 L1035.6 1769.7 L1037.3 1771.3 L1037.3 1776.7 L1039.1 1778.3 L1039.1 1783.8 L1040.9 1785.4 L1040.9 1790.7 L1042.6 1792.3 L1042.6 1797.7 L1044.4 1799.3 L1044.4 1804.6 L1046.2 1806.2 L1046.2 1811.6 L1047.9 1813.2 L1047.9 1818.5 L1049.7 1820.1 L1049.7 1825.5 L1051.5 1827.1 L1051.5 1832.4 L1053.2 1834 L1053.2 1839.4 L1055 1841 L1055 1846.3 L1056.8 1847.9 L1056.8 1853.3 L1058.5 1854.9 L1058.5 1860.2 L1060.3 1861.8 L1060.3 1867.2 L1062 1868.8 L1062 1874.1 L1063.8 1875.7 L1063.8 1881.1 L1065.6 1882.7 L1065.6 1888 L1067.3 1889.6 L1067.3 1895 L1069.1 1896.6 L1069.1 1901.9 L1070.9 1903.5 L1070.9 1908.9 L1072.6 1910.5 L1072.6 1915.8 L1074.4 1917.4 L1074.4 1922.9 L1076.3 1924.5 L1076.3 1930 L1078.2 1931.6 L1078.2 1937.1 L1080 1938.7 L1080 1944.2 L1081.9 1945.8 L1081.9 1951.4 L1083.7 1953 L1083.7 1958.5 L1085.6 1960.1 L1085.6 1965.6 L1087.5 1967.2 L1087.5 1972.7 L1089.3 1974.3 L1089.3 1979.8 L1091.2 1981.4 L1091.2 1986.9 L1093 1988.5 L1093 1994 L1094.9 1995.6 L1094.9 2001.1 L1096.8 2002.7 L1096.8 2008.2 L1098.6 2009.8 L1098.6 2015.4 L1100.5 2017 L1100.5 2022.5 L1102.3 2024.1 L1102.3 2029.6 L1104.2 2031.2 L1104.2 2036.7 L1106.1 2038.3 L1106.1 2043.8 L1107.9 2045.4 L1107.9 2050.7 L1109.8 2052.3 L1109.8 2057.6 L1111.6 2059.2 L1111.6 2064.6 L1113.5 2066.2 L1113.5 2071.5 L1115.3 2073.1 L1115.3 2078.4 L1117.2 2080 L1117.2 2085.3 L1119 2086.9 L1119 2092.3 L1120.8 2093.9 L1120.8 2099.2 L1122.7 2100.8 L1122.7 2106.1 L1124.5 2107.7 L1124.5 2113 L1126.4 2114.6 L1126.4 2120 L1128.2 2121.6 L1128.2 2126.9 L1130.1 2128.5 L1130.1 2133.8 L1132 2135.4 L1132 2140.4 L1134 2142 L1134 2147.1 L1135.9 2148.6 L1135.9 2153.7 L1137.9 2155.3 L1137.9 2160.3 L1139.9 2161.9 L1139.9 2166.9 L1141.9 2168.5 L1141.9 2173.6 L1143.8 2175.1 L1143.8 2180.2 L1145.8 2181.8 L1145.8 2186.8 L1147.8 2188.4 L1147.8 2193.3 L1149.7 2194.9 L1149.7 2199.8 L1151.6 2201.4 L1151.6 2206.3 L1152.6 2207.1 L1154.6 2207.1 L1155.5 2206.3 L1155.5 2201.4 L1157.2 2199.8 L1157.2 2194.9 L1158.9 2193.3 L1158.9 2188.4 L1160.6 2186.8 L1160.6 2181.8 L1162.2 2180.2 L1162.2 2175.1 L1163.8 2173.6 L1163.8 2168.5 L1165.4 2166.9 L1165.4 2161.9 L1166.9 2160.3 L1166.9 2155.3 L1168.5 2153.7 L1168.5 2148.6 L1170.1 2147.1 L1170.1 2142 L1171.7 2140.4 L1171.7 2135.4 L1173.4 2133.8 L1173.4 2128.5 L1175.1 2126.9 L1175.1 2121.6 L1176.8 2120 L1176.8 2114.6 L1178.6 2113 L1178.6 2107.7 L1180.3 2106.1 L1180.3 2100.8 L1182 2099.2 L1182 2093.9 L1183.8 2092.3 L1183.8 2086.9 L1185.5 2085.3 L1185.5 2080 L1187.2 2078.4 L1187.2 2073.1 L1188.9 2071.5 L1188.9 2066.2 L1190.7 2064.6 L1190.7 2059.2 L1192.4 2057.6 L1192.4 2052.3 L1194.1 2050.7 L1194.1 2045.4 L1195.9 2043.8 L1195.9 2038.3 L1197.6 2036.7 L1197.6 2031.2 L1199.4 2029.6 L1199.4 2024.1 L1201.1 2022.5 L1201.1 2017 L1202.9 2015.4 L1202.9 2009.8 L1204.7 2008.2 L1204.7 2002.7 L1206.4 2001.1 L1206.4 1995.6 L1208.2 1994 L1208.2 1988.5 L1209.9 1986.9 L1209.9 1981.4 L1211.7 1979.8 L1211.7 1974.3 L1213.4 1972.7 L1213.4 1967.2 L1215.2 1965.6 L1215.2 1960.1 L1216.9 1958.5 L1216.9 1953 L1218.7 1951.4 L1218.7 1945.8 L1220.5 1944.2 L1220.5 1938.7 L1222.2 1937.1 L1222.2 1931.6 L1224 1930 L1224 1924.5 L1225.7 1922.9 L1225.7 1917.4 L1227.4 1915.8 L1227.4 1910.5 L1229.1 1908.9 L1229.1 1903.5 L1230.7 1901.9 L1230.7 1896.6 L1232.4 1895 L1232.4 1889.6 L1234 1888 L1234 1882.7 L1235.7 1881.1 L1235.7 1875.7 L1237.3 1874.1 L1237.3 1868.8 L1239 1867.2 L1239 1861.8 L1240.6 1860.2 L1240.6 1854.9 L1242.3 1853.3 L1242.3 1847.9 L1244 1846.3 L1244 1841 L1245.6 1839.4 L1245.6 1834 L1247.3 1832.4 L1247.3 1827.1 L1248.9 1825.5 L1248.9 1820.1 L1250.6 1818.5 L1250.6 1813.2 L1252.2 1811.6 L1252.2 1806.2 L1253.9 1804.6 L1253.9 1799.3 L1255.5 1797.7 L1255.5 1792.3 L1257.2 1790.7 L1257.2 1785.4 L1258.8 1783.8 L1258.8 1778.3 L1260.5 1776.7 L1260.5 1771.1 L1262.2 1769.5 L1262.2 1764 L1263.9 1762.4 L1263.9 1756.9 L1265.5 1755.3 L1265.5 1749.7 L1267.2 1748.1 L1267.2 1742.6 L1268.9 1741 L1268.9 1735.5 L1270.6 1733.9 L1270.6 1728.3 L1272.2 1726.7 L1272.2 1721.2 L1273.9 1719.6 L1273.9 1714.1 L1275.6 1712.5 L1275.6 1707 L1277.2 1705.4 L1277.2 1699.8 L1278.9 1698.2 L1278.9 1692.7 L1280.6 1691.1 L1280.6 1685.6 L1282.3 1684 L1282.3 1678.4 L1283.9 1676.8 L1283.9 1671.3 L1285.6 1669.7 L1285.6 1664.2 L1287.3 1662.6 L1287.3 1657 L1289 1655.4 L1289 1649.9 L1290 1648.3 L1290 1645.4Z" stroke-width="0.90" stroke="#000"/>
</g>
<line x1="666" y1="1648.9" x2="665" y2="2208.6" stroke="#0000ff" stroke-width="1" stroke-dasharray="10.5 6.8" opacity="0.85"/>
<line x1="716" y1="1648.9" x2="715" y2="2208.6" stroke="#0000ff" stroke-width="1" stroke-dasharray="10.5 6.8" opacity="0.85"/>
<line x1="765" y1="1648.9" x2="763.6" y2="2208.6" stroke="#0000ff" stroke-width="1" stroke-dasharray="10.5 6.8" opacity="0.85"/>
<line x1="865" y1="1648.9" x2="861.6" y2="2208.6" stroke="#0000ff" stroke-width="1" stroke-dasharray="10.5 6.8" opacity="0.85"/>
<line x1="1153.8" y1="1648.9" x2="1152.4" y2="2208.6" stroke="#0000ff" stroke-width="1" stroke-dasharray="10.5 6.8" opacity="0.85"/>
<rect x="569.5" y="1648.9" width="739.7" height="559.7" fill="none" stroke="#666" stroke-width="1.5"/>
<text x="661" y="2250.9" font-family="'Liberation Sans', sans-serif" font-size="31" fill="#2b2b2b" text-anchor="middle">20</text><text x="753.7" y="2250.9" font-family="'Liberation Sans', sans-serif" font-size="31" fill="#2b2b2b" text-anchor="middle">40</text><text x="846.4" y="2250.9" font-family="'Liberation Sans', sans-serif" font-size="31" fill="#2b2b2b" text-anchor="middle">60</text><text x="939.1" y="2250.9" font-family="'Liberation Sans', sans-serif" font-size="31" fill="#2b2b2b" text-anchor="middle">80</text><text x="1031.9" y="2250.9" font-family="'Liberation Sans', sans-serif" font-size="31" fill="#2b2b2b" text-anchor="middle">100</text><text x="1124.6" y="2250.9" font-family="'Liberation Sans', sans-serif" font-size="31" fill="#2b2b2b" text-anchor="middle">120</text><text x="1217.3" y="2250.9" font-family="'Liberation Sans', sans-serif" font-size="31" fill="#2b2b2b" text-anchor="middle">140</text><text x="1310" y="2250.9" font-family="'Liberation Sans', sans-serif" font-size="31" fill="#2b2b2b" text-anchor="middle">160</text>
<text x="560.7" y="1662.9" font-family="'Liberation Sans', sans-serif" font-size="31" fill="#2b2b2b" text-anchor="end">1</text><text x="560.7" y="1774.7" font-family="'Liberation Sans', sans-serif" font-size="31" fill="#2b2b2b" text-anchor="end">0.8</text><text x="560.7" y="1886.5" font-family="'Liberation Sans', sans-serif" font-size="31" fill="#2b2b2b" text-anchor="end">0.6</text><text x="560.7" y="1998.3" font-family="'Liberation Sans', sans-serif" font-size="31" fill="#2b2b2b" text-anchor="end">0.4</text><text x="560.7" y="2110.1" font-family="'Liberation Sans', sans-serif" font-size="31" fill="#2b2b2b" text-anchor="end">0.2</text><text x="560.7" y="2221.9" font-family="'Liberation Sans', sans-serif" font-size="31" fill="#2b2b2b" text-anchor="end">0</text>
<text x="860.5" y="2294.2" font-family="'Liberation Serif', serif" font-size="39.5" fill="#4a4a4a" textLength="157.5" lengthAdjust="spacingAndGlyphs">&#937; [rad/s]</text>
<text x="496.2" y="2012.8" font-family="'Liberation Serif', serif" font-size="39.5" fill="#5c5c5c" textLength="50.5" lengthAdjust="spacingAndGlyphs" transform="rotate(-90 496.2 2012.8)"><tspan font-style="italic" font-size="50">&#949;</tspan><tspan font-size="31" dy="5.3">11</tspan><tspan dy="-5.3" font-size="1">&#8203;</tspan></text>
<text x="496.2" y="1944" font-family="'Liberation Serif', serif" font-size="50" fill="#5c5c5c" textLength="31" lengthAdjust="spacingAndGlyphs" transform="rotate(-90 496.2 1944)">=</text>
<text x="496.2" y="1898" font-family="'Liberation Serif', serif" font-size="39.5" fill="#5c5c5c" textLength="52" lengthAdjust="spacingAndGlyphs" transform="rotate(-90 496.2 1898)"><tspan font-style="italic" font-size="50">&#949;</tspan><tspan font-size="31" dy="5.3">22</tspan><tspan dy="-5.3" font-size="1">&#8203;</tspan></text>
<text x="617" y="2371.2" font-family="'Liberation Serif', serif" font-size="43" fill="#000" textLength="334.5" lengthAdjust="spacingAndGlyphs">(e) SSV case with</text><text x="966" y="2371.2" font-family="'Liberation Serif', serif" font-size="43" fill="#000" textLength="52" lengthAdjust="spacingAndGlyphs"><tspan font-style="italic" font-size="43">&#949;</tspan><tspan font-size="30.1" dy="7.3">11</tspan><tspan dy="-7.3" font-size="1">&#8203;</tspan></text><text x="1034" y="2371.2" font-family="'Liberation Serif', serif" font-size="43" fill="#000" textLength="33" lengthAdjust="spacingAndGlyphs">=</text><text x="1080" y="2371.2" font-family="'Liberation Serif', serif" font-size="43" fill="#000" textLength="52.5" lengthAdjust="spacingAndGlyphs"><tspan font-style="italic" font-size="43">&#949;</tspan><tspan font-size="30.1" dy="7.3">22</tspan><tspan dy="-7.3" font-size="1">&#8203;</tspan></text><text x="1138.4" y="2371.2" font-family="'Liberation Serif', serif" font-size="43" fill="#000" textLength="8" lengthAdjust="spacingAndGlyphs">.</text>
<text x="643.1" y="2184.5" font-family="'Liberation Sans', sans-serif" font-size="29" fill="#0000ff" textLength="103.5" lengthAdjust="spacingAndGlyphs" transform="rotate(-90 643.1 2184.5)"><tspan font-weight="bold">(2 </tspan><tspan font-family="'Liberation Serif', serif" font-style="italic" font-size="31.9">&#969;</tspan><tspan font-weight="bold" font-size="23.2" dy="14.5">f</tspan><tspan dy="-14.5" font-size="1">&#8203;</tspan><tspan font-weight="bold">)/3</tspan></text>
<text x="693.2" y="2191" font-family="'Liberation Sans', sans-serif" font-size="29" fill="#0000ff" textLength="31" lengthAdjust="spacingAndGlyphs" transform="rotate(-90 693.2 2191)"><tspan font-family="'Liberation Serif', serif" font-style="italic" font-size="31.9">&#969;</tspan><tspan font-weight="bold" font-size="23.2" dy="14.5">f</tspan><tspan dy="-14.5" font-size="1">&#8203;</tspan></text>
<text x="802.5" y="2181.5" font-family="'Liberation Sans', sans-serif" font-size="29" fill="#0000ff" textLength="110" lengthAdjust="spacingAndGlyphs" transform="rotate(-90 802.5 2181.5)"><tspan font-weight="bold">(2 </tspan><tspan font-family="'Liberation Serif', serif" font-style="italic" font-size="31.9">&#969;</tspan><tspan font-weight="bold" font-size="23.2" dy="14.5">p</tspan><tspan dy="-14.5" font-size="1">&#8203;</tspan><tspan font-weight="bold">)/3</tspan></text>
<text x="909.7" y="2188.5" font-family="'Liberation Sans', sans-serif" font-size="29" fill="#0000ff" textLength="128" lengthAdjust="spacingAndGlyphs" transform="rotate(-90 909.7 2188.5)"><tspan font-weight="bold">2 </tspan><tspan font-family="'Liberation Serif', serif" font-style="italic" font-size="31.9">&#969;</tspan><tspan font-weight="bold" font-size="23.2" dy="14.5">f</tspan><tspan dy="-14.5" font-size="1">&#8203;</tspan><tspan font-weight="bold"> , </tspan><tspan font-family="'Liberation Serif', serif" font-style="italic" font-size="31.9">&#969;</tspan><tspan font-weight="bold" font-size="23.2" dy="14.5">p</tspan><tspan dy="-14.5" font-size="1">&#8203;</tspan></text>
<text x="1198.5" y="2192" font-family="'Liberation Sans', sans-serif" font-size="29" fill="#0000ff" textLength="64" lengthAdjust="spacingAndGlyphs" transform="rotate(-90 1198.5 2192)"><tspan font-weight="bold">2 </tspan><tspan font-family="'Liberation Serif', serif" font-style="italic" font-size="31.9">&#969;</tspan><tspan font-weight="bold" font-size="23.2" dy="14.5">p</tspan><tspan dy="-14.5" font-size="1">&#8203;</tspan></text>
</svg>
</body></html>
